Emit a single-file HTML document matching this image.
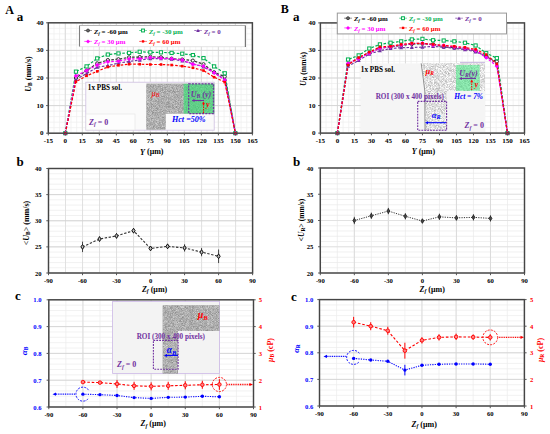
<!DOCTYPE html><html><head><meta charset="utf-8"><style>html,body{margin:0;padding:0;background:#fff;}svg{display:block;}</style></head><body><svg width="550" height="434" viewBox="0 0 550 434" font-family="Liberation Serif">
<defs>
<filter id="nzA" x="0" y="0" width="100%" height="100%" filterUnits="objectBoundingBox" color-interpolation-filters="sRGB">
<feTurbulence type="fractalNoise" baseFrequency="2.2" numOctaves="2" seed="3" result="n"/>
<feColorMatrix in="n" type="matrix" values="1 0 0 0 0  1 0 0 0 0  1 0 0 0 0  0 0 0 0 1" result="g"/>
<feComponentTransfer in="g" result="c"><feFuncR type="linear" slope="0.45" intercept="0.46"/><feFuncG type="linear" slope="0.45" intercept="0.46"/><feFuncB type="linear" slope="0.45" intercept="0.46"/></feComponentTransfer>
<feComposite in="c" in2="SourceAlpha" operator="in"/>
</filter>
<filter id="nzB" x="0" y="0" width="100%" height="100%" filterUnits="objectBoundingBox" color-interpolation-filters="sRGB">
<feTurbulence type="fractalNoise" baseFrequency="1.6" numOctaves="2" seed="5" result="n"/>
<feColorMatrix in="n" type="matrix" values="1 0 0 0 0  1 0 0 0 0  1 0 0 0 0  0 0 0 0 1" result="g"/>
<feComponentTransfer in="g" result="c"><feFuncR type="linear" slope="0.6" intercept="0.58"/><feFuncG type="linear" slope="0.6" intercept="0.58"/><feFuncB type="linear" slope="0.6" intercept="0.58"/></feComponentTransfer>
<feComposite in="c" in2="SourceAlpha" operator="in"/>
</filter>
</defs>
<rect width="550" height="434" fill="#fff"/>
<line x1="48.30" y1="22.80" x2="48.30" y2="133.20" stroke="#eeeeee" stroke-width="0.7"/>
<line x1="53.97" y1="22.80" x2="53.97" y2="133.20" stroke="#eeeeee" stroke-width="0.7"/>
<line x1="59.64" y1="22.80" x2="59.64" y2="133.20" stroke="#eeeeee" stroke-width="0.7"/>
<line x1="65.31" y1="22.80" x2="65.31" y2="133.20" stroke="#eeeeee" stroke-width="0.7"/>
<line x1="70.98" y1="22.80" x2="70.98" y2="133.20" stroke="#eeeeee" stroke-width="0.7"/>
<line x1="76.65" y1="22.80" x2="76.65" y2="133.20" stroke="#eeeeee" stroke-width="0.7"/>
<line x1="82.32" y1="22.80" x2="82.32" y2="133.20" stroke="#eeeeee" stroke-width="0.7"/>
<line x1="87.99" y1="22.80" x2="87.99" y2="133.20" stroke="#eeeeee" stroke-width="0.7"/>
<line x1="93.66" y1="22.80" x2="93.66" y2="133.20" stroke="#eeeeee" stroke-width="0.7"/>
<line x1="99.33" y1="22.80" x2="99.33" y2="133.20" stroke="#eeeeee" stroke-width="0.7"/>
<line x1="104.99" y1="22.80" x2="104.99" y2="133.20" stroke="#eeeeee" stroke-width="0.7"/>
<line x1="110.66" y1="22.80" x2="110.66" y2="133.20" stroke="#eeeeee" stroke-width="0.7"/>
<line x1="116.33" y1="22.80" x2="116.33" y2="133.20" stroke="#eeeeee" stroke-width="0.7"/>
<line x1="122.00" y1="22.80" x2="122.00" y2="133.20" stroke="#eeeeee" stroke-width="0.7"/>
<line x1="127.67" y1="22.80" x2="127.67" y2="133.20" stroke="#eeeeee" stroke-width="0.7"/>
<line x1="133.34" y1="22.80" x2="133.34" y2="133.20" stroke="#eeeeee" stroke-width="0.7"/>
<line x1="139.01" y1="22.80" x2="139.01" y2="133.20" stroke="#eeeeee" stroke-width="0.7"/>
<line x1="144.68" y1="22.80" x2="144.68" y2="133.20" stroke="#eeeeee" stroke-width="0.7"/>
<line x1="150.35" y1="22.80" x2="150.35" y2="133.20" stroke="#eeeeee" stroke-width="0.7"/>
<line x1="156.02" y1="22.80" x2="156.02" y2="133.20" stroke="#eeeeee" stroke-width="0.7"/>
<line x1="161.69" y1="22.80" x2="161.69" y2="133.20" stroke="#eeeeee" stroke-width="0.7"/>
<line x1="167.36" y1="22.80" x2="167.36" y2="133.20" stroke="#eeeeee" stroke-width="0.7"/>
<line x1="173.03" y1="22.80" x2="173.03" y2="133.20" stroke="#eeeeee" stroke-width="0.7"/>
<line x1="178.70" y1="22.80" x2="178.70" y2="133.20" stroke="#eeeeee" stroke-width="0.7"/>
<line x1="184.37" y1="22.80" x2="184.37" y2="133.20" stroke="#eeeeee" stroke-width="0.7"/>
<line x1="190.04" y1="22.80" x2="190.04" y2="133.20" stroke="#eeeeee" stroke-width="0.7"/>
<line x1="195.71" y1="22.80" x2="195.71" y2="133.20" stroke="#eeeeee" stroke-width="0.7"/>
<line x1="201.38" y1="22.80" x2="201.38" y2="133.20" stroke="#eeeeee" stroke-width="0.7"/>
<line x1="207.04" y1="22.80" x2="207.04" y2="133.20" stroke="#eeeeee" stroke-width="0.7"/>
<line x1="212.71" y1="22.80" x2="212.71" y2="133.20" stroke="#eeeeee" stroke-width="0.7"/>
<line x1="218.38" y1="22.80" x2="218.38" y2="133.20" stroke="#eeeeee" stroke-width="0.7"/>
<line x1="224.05" y1="22.80" x2="224.05" y2="133.20" stroke="#eeeeee" stroke-width="0.7"/>
<line x1="229.72" y1="22.80" x2="229.72" y2="133.20" stroke="#eeeeee" stroke-width="0.7"/>
<line x1="235.39" y1="22.80" x2="235.39" y2="133.20" stroke="#eeeeee" stroke-width="0.7"/>
<line x1="241.06" y1="22.80" x2="241.06" y2="133.20" stroke="#eeeeee" stroke-width="0.7"/>
<line x1="246.73" y1="22.80" x2="246.73" y2="133.20" stroke="#eeeeee" stroke-width="0.7"/>
<line x1="252.40" y1="22.80" x2="252.40" y2="133.20" stroke="#eeeeee" stroke-width="0.7"/>
<line x1="48.30" y1="133.20" x2="252.40" y2="133.20" stroke="#eeeeee" stroke-width="0.7"/>
<line x1="48.30" y1="127.68" x2="252.40" y2="127.68" stroke="#eeeeee" stroke-width="0.7"/>
<line x1="48.30" y1="122.16" x2="252.40" y2="122.16" stroke="#eeeeee" stroke-width="0.7"/>
<line x1="48.30" y1="116.64" x2="252.40" y2="116.64" stroke="#eeeeee" stroke-width="0.7"/>
<line x1="48.30" y1="111.12" x2="252.40" y2="111.12" stroke="#eeeeee" stroke-width="0.7"/>
<line x1="48.30" y1="105.60" x2="252.40" y2="105.60" stroke="#eeeeee" stroke-width="0.7"/>
<line x1="48.30" y1="100.08" x2="252.40" y2="100.08" stroke="#eeeeee" stroke-width="0.7"/>
<line x1="48.30" y1="94.56" x2="252.40" y2="94.56" stroke="#eeeeee" stroke-width="0.7"/>
<line x1="48.30" y1="89.04" x2="252.40" y2="89.04" stroke="#eeeeee" stroke-width="0.7"/>
<line x1="48.30" y1="83.52" x2="252.40" y2="83.52" stroke="#eeeeee" stroke-width="0.7"/>
<line x1="48.30" y1="78.00" x2="252.40" y2="78.00" stroke="#eeeeee" stroke-width="0.7"/>
<line x1="48.30" y1="72.48" x2="252.40" y2="72.48" stroke="#eeeeee" stroke-width="0.7"/>
<line x1="48.30" y1="66.96" x2="252.40" y2="66.96" stroke="#eeeeee" stroke-width="0.7"/>
<line x1="48.30" y1="61.44" x2="252.40" y2="61.44" stroke="#eeeeee" stroke-width="0.7"/>
<line x1="48.30" y1="55.92" x2="252.40" y2="55.92" stroke="#eeeeee" stroke-width="0.7"/>
<line x1="48.30" y1="50.40" x2="252.40" y2="50.40" stroke="#eeeeee" stroke-width="0.7"/>
<line x1="48.30" y1="44.88" x2="252.40" y2="44.88" stroke="#eeeeee" stroke-width="0.7"/>
<line x1="48.30" y1="39.36" x2="252.40" y2="39.36" stroke="#eeeeee" stroke-width="0.7"/>
<line x1="48.30" y1="33.84" x2="252.40" y2="33.84" stroke="#eeeeee" stroke-width="0.7"/>
<line x1="48.30" y1="28.32" x2="252.40" y2="28.32" stroke="#eeeeee" stroke-width="0.7"/>
<line x1="48.30" y1="22.80" x2="252.40" y2="22.80" stroke="#eeeeee" stroke-width="0.7"/>
<line x1="48.30" y1="22.80" x2="48.30" y2="133.20" stroke="#d8d8d8" stroke-width="0.9"/>
<line x1="65.31" y1="22.80" x2="65.31" y2="133.20" stroke="#d8d8d8" stroke-width="0.9"/>
<line x1="82.32" y1="22.80" x2="82.32" y2="133.20" stroke="#d8d8d8" stroke-width="0.9"/>
<line x1="99.33" y1="22.80" x2="99.33" y2="133.20" stroke="#d8d8d8" stroke-width="0.9"/>
<line x1="116.33" y1="22.80" x2="116.33" y2="133.20" stroke="#d8d8d8" stroke-width="0.9"/>
<line x1="133.34" y1="22.80" x2="133.34" y2="133.20" stroke="#d8d8d8" stroke-width="0.9"/>
<line x1="150.35" y1="22.80" x2="150.35" y2="133.20" stroke="#d8d8d8" stroke-width="0.9"/>
<line x1="167.36" y1="22.80" x2="167.36" y2="133.20" stroke="#d8d8d8" stroke-width="0.9"/>
<line x1="184.37" y1="22.80" x2="184.37" y2="133.20" stroke="#d8d8d8" stroke-width="0.9"/>
<line x1="201.38" y1="22.80" x2="201.38" y2="133.20" stroke="#d8d8d8" stroke-width="0.9"/>
<line x1="218.38" y1="22.80" x2="218.38" y2="133.20" stroke="#d8d8d8" stroke-width="0.9"/>
<line x1="235.39" y1="22.80" x2="235.39" y2="133.20" stroke="#d8d8d8" stroke-width="0.9"/>
<line x1="252.40" y1="22.80" x2="252.40" y2="133.20" stroke="#d8d8d8" stroke-width="0.9"/>
<line x1="48.30" y1="133.20" x2="252.40" y2="133.20" stroke="#d2d2d2" stroke-width="0.9"/>
<line x1="48.30" y1="105.60" x2="252.40" y2="105.60" stroke="#d2d2d2" stroke-width="0.9"/>
<line x1="48.30" y1="78.00" x2="252.40" y2="78.00" stroke="#d2d2d2" stroke-width="0.9"/>
<line x1="48.30" y1="50.40" x2="252.40" y2="50.40" stroke="#d2d2d2" stroke-width="0.9"/>
<line x1="48.30" y1="22.80" x2="252.40" y2="22.80" stroke="#d2d2d2" stroke-width="0.9"/>
<rect x="85.80" y="82.20" width="128.40" height="48.00" fill="#fafafa" stroke="#cdbfe0" stroke-width="0.8"/>
<rect x="86.00" y="114.00" width="49.00" height="16.00" fill="#fdfdfd" stroke="#e4e4e4" stroke-width="0.6"/>
<path d="M146.5,83.8 H214.2 V113.6 H165.5 V129.6 H146.5 Z" fill="#9a9a9a"/>
<g filter="url(#nzA)"><path d="M146.5,83.8 H214.2 V113.6 H165.5 V129.6 H146.5 Z" fill="#999"/></g>
<rect x="183.60" y="83.80" width="30.60" height="29.80" fill="#30e070" stroke="none" stroke-width="1" opacity="0.62"/>
<rect x="188.70" y="83.80" width="24.80" height="29.80" fill="none" stroke="#7030a0" stroke-width="1.2" stroke-dasharray="2,1.2"/>
<text x="87.8" y="88.4" font-size="7.2" fill="#000" text-anchor="start" font-weight="bold" font-style="normal" dominant-baseline="central">1x PBS sol.</text>
<text x="89" y="122" font-size="8" fill="#7030a0" text-anchor="start" font-weight="bold" dominant-baseline="central"><tspan font-style="italic">Z</tspan><tspan font-style="italic" font-size="5.60" dy="2.40">f</tspan><tspan dy="-2.40"> = 0</tspan></text>
<text x="155.3" y="93.2" font-size="8.5" fill="#ff0000" font-style="italic" font-weight="normal" dominant-baseline="central" text-anchor="middle">&#956;<tspan font-size="5.5" dy="2">B</tspan></text>
<text x="201" y="94" font-size="8" fill="#7030a0" font-style="italic" font-weight="bold" dominant-baseline="central" text-anchor="middle">U<tspan font-size="5.5" dy="2">B</tspan><tspan dy="-2"> (y)</tspan></text>
<line x1="204.00" y1="100.50" x2="193.00" y2="100.50" stroke="#7030a0" stroke-width="1.1"/>
<polygon points="191.5,100.5 194.5,99 194.5,102" fill="#7030a0"/>
<line x1="203.50" y1="113.00" x2="203.50" y2="103.00" stroke="#ff0000" stroke-width="1" stroke-dasharray="1.5,1"/>
<polygon points="203.5,101.5 202,104.3 205,104.3" fill="#ff0000"/>
<text x="208" y="104.5" font-size="7.5" fill="#ff0000" text-anchor="middle" font-weight="bold" font-style="italic" dominant-baseline="central">y</text>
<text x="188.8" y="119.8" font-size="8.1" fill="#0000ff" font-style="italic" font-weight="bold" dominant-baseline="central" text-anchor="middle">Hct =50%</text>
<polyline points="65.31,133.20 75.94,78.00 86.57,70.55 97.20,63.37 107.83,60.06 118.46,59.23 129.09,57.30 139.72,57.02 150.35,56.75 160.98,57.30 171.61,58.68 182.24,59.51 192.87,60.61 203.50,64.20 214.13,72.20 224.76,76.62 235.39,133.20" fill="none" stroke="#333" stroke-width="1.2" stroke-dasharray="2.6,1.6"/>
<polyline points="65.31,133.20 75.94,71.65 86.57,66.41 97.20,58.40 107.83,54.54 118.46,53.44 129.09,52.88 139.72,51.78 150.35,52.33 160.98,52.33 171.61,52.88 182.24,53.71 192.87,55.09 203.50,58.13 214.13,66.41 224.76,73.31 235.39,133.20" fill="none" stroke="#00b050" stroke-width="1.2" stroke-dasharray="2.6,1.6"/>
<polyline points="65.31,133.20 75.94,79.38 86.57,73.58 97.20,67.24 107.83,65.58 118.46,63.10 129.09,61.44 139.72,60.06 150.35,58.68 160.98,58.68 171.61,59.23 182.24,60.89 192.87,63.65 203.50,66.96 214.13,72.48 224.76,79.38 235.39,133.20" fill="none" stroke="#7030a0" stroke-width="1.2" stroke-dasharray="2.6,1.6"/>
<polyline points="65.31,133.20 75.94,76.07 86.57,70.55 97.20,65.03 107.83,61.72 118.46,61.16 129.09,58.96 139.72,58.68 150.35,57.58 160.98,58.13 171.61,58.68 182.24,60.06 192.87,64.20 203.50,66.13 214.13,72.76 224.76,79.93 235.39,133.20" fill="none" stroke="#ff00ff" stroke-width="1.2" stroke-dasharray="2.6,1.6"/>
<polyline points="65.31,133.20 75.94,81.59 86.57,75.79 97.20,71.38 107.83,66.96 118.46,65.30 129.09,64.20 139.72,64.20 150.35,64.48 160.98,64.48 171.61,65.03 182.24,66.13 192.87,67.79 203.50,70.55 214.13,77.17 224.76,82.14 235.39,133.20" fill="none" stroke="#ff0000" stroke-width="1.2" stroke-dasharray="2.6,1.6"/>
<circle cx="65.31" cy="133.20" r="1.6" fill="#fff" stroke="#333" stroke-width="1"/>
<circle cx="75.94" cy="78.00" r="1.6" fill="#fff" stroke="#333" stroke-width="1"/>
<circle cx="86.57" cy="70.55" r="1.6" fill="#fff" stroke="#333" stroke-width="1"/>
<circle cx="97.20" cy="63.37" r="1.6" fill="#fff" stroke="#333" stroke-width="1"/>
<circle cx="107.83" cy="60.06" r="1.6" fill="#fff" stroke="#333" stroke-width="1"/>
<circle cx="118.46" cy="59.23" r="1.6" fill="#fff" stroke="#333" stroke-width="1"/>
<circle cx="129.09" cy="57.30" r="1.6" fill="#fff" stroke="#333" stroke-width="1"/>
<circle cx="139.72" cy="57.02" r="1.6" fill="#fff" stroke="#333" stroke-width="1"/>
<circle cx="150.35" cy="56.75" r="1.6" fill="#fff" stroke="#333" stroke-width="1"/>
<circle cx="160.98" cy="57.30" r="1.6" fill="#fff" stroke="#333" stroke-width="1"/>
<circle cx="171.61" cy="58.68" r="1.6" fill="#fff" stroke="#333" stroke-width="1"/>
<circle cx="182.24" cy="59.51" r="1.6" fill="#fff" stroke="#333" stroke-width="1"/>
<circle cx="192.87" cy="60.61" r="1.6" fill="#fff" stroke="#333" stroke-width="1"/>
<circle cx="203.50" cy="64.20" r="1.6" fill="#fff" stroke="#333" stroke-width="1"/>
<circle cx="214.13" cy="72.20" r="1.6" fill="#fff" stroke="#333" stroke-width="1"/>
<circle cx="224.76" cy="76.62" r="1.6" fill="#fff" stroke="#333" stroke-width="1"/>
<circle cx="235.39" cy="133.20" r="1.6" fill="#fff" stroke="#333" stroke-width="1"/>
<rect x="63.71" y="131.60" width="3.2" height="3.2" fill="#fff" stroke="#00b050" stroke-width="1"/>
<rect x="74.34" y="70.05" width="3.2" height="3.2" fill="#fff" stroke="#00b050" stroke-width="1"/>
<rect x="84.97" y="64.81" width="3.2" height="3.2" fill="#fff" stroke="#00b050" stroke-width="1"/>
<rect x="95.60" y="56.80" width="3.2" height="3.2" fill="#fff" stroke="#00b050" stroke-width="1"/>
<rect x="106.23" y="52.94" width="3.2" height="3.2" fill="#fff" stroke="#00b050" stroke-width="1"/>
<rect x="116.86" y="51.84" width="3.2" height="3.2" fill="#fff" stroke="#00b050" stroke-width="1"/>
<rect x="127.49" y="51.28" width="3.2" height="3.2" fill="#fff" stroke="#00b050" stroke-width="1"/>
<rect x="138.12" y="50.18" width="3.2" height="3.2" fill="#fff" stroke="#00b050" stroke-width="1"/>
<rect x="148.75" y="50.73" width="3.2" height="3.2" fill="#fff" stroke="#00b050" stroke-width="1"/>
<rect x="159.38" y="50.73" width="3.2" height="3.2" fill="#fff" stroke="#00b050" stroke-width="1"/>
<rect x="170.01" y="51.28" width="3.2" height="3.2" fill="#fff" stroke="#00b050" stroke-width="1"/>
<rect x="180.64" y="52.11" width="3.2" height="3.2" fill="#fff" stroke="#00b050" stroke-width="1"/>
<rect x="191.27" y="53.49" width="3.2" height="3.2" fill="#fff" stroke="#00b050" stroke-width="1"/>
<rect x="201.90" y="56.53" width="3.2" height="3.2" fill="#fff" stroke="#00b050" stroke-width="1"/>
<rect x="212.53" y="64.81" width="3.2" height="3.2" fill="#fff" stroke="#00b050" stroke-width="1"/>
<rect x="223.16" y="71.71" width="3.2" height="3.2" fill="#fff" stroke="#00b050" stroke-width="1"/>
<rect x="233.79" y="131.60" width="3.2" height="3.2" fill="#fff" stroke="#00b050" stroke-width="1"/>
<polygon points="65.31,131.20 67.31,134.80 63.31,134.80" fill="#7030a0"/>
<polygon points="75.94,77.38 77.94,80.98 73.94,80.98" fill="#7030a0"/>
<polygon points="86.57,71.58 88.57,75.18 84.57,75.18" fill="#7030a0"/>
<polygon points="97.20,65.24 99.20,68.84 95.20,68.84" fill="#7030a0"/>
<polygon points="107.83,63.58 109.83,67.18 105.83,67.18" fill="#7030a0"/>
<polygon points="118.46,61.10 120.46,64.70 116.46,64.70" fill="#7030a0"/>
<polygon points="129.09,59.44 131.09,63.04 127.09,63.04" fill="#7030a0"/>
<polygon points="139.72,58.06 141.72,61.66 137.72,61.66" fill="#7030a0"/>
<polygon points="150.35,56.68 152.35,60.28 148.35,60.28" fill="#7030a0"/>
<polygon points="160.98,56.68 162.98,60.28 158.98,60.28" fill="#7030a0"/>
<polygon points="171.61,57.23 173.61,60.83 169.61,60.83" fill="#7030a0"/>
<polygon points="182.24,58.89 184.24,62.49 180.24,62.49" fill="#7030a0"/>
<polygon points="192.87,61.65 194.87,65.25 190.87,65.25" fill="#7030a0"/>
<polygon points="203.50,64.96 205.50,68.56 201.50,68.56" fill="#7030a0"/>
<polygon points="214.13,70.48 216.13,74.08 212.13,74.08" fill="#7030a0"/>
<polygon points="224.76,77.38 226.76,80.98 222.76,80.98" fill="#7030a0"/>
<polygon points="235.39,131.20 237.39,134.80 233.39,134.80" fill="#7030a0"/>
<polygon points="65.31,131.00 67.51,133.20 65.31,135.40 63.11,133.20" fill="#ff00ff"/>
<polygon points="75.94,73.87 78.14,76.07 75.94,78.27 73.74,76.07" fill="#ff00ff"/>
<polygon points="86.57,68.35 88.77,70.55 86.57,72.75 84.37,70.55" fill="#ff00ff"/>
<polygon points="97.20,62.83 99.40,65.03 97.20,67.23 95.00,65.03" fill="#ff00ff"/>
<polygon points="107.83,59.52 110.03,61.72 107.83,63.92 105.63,61.72" fill="#ff00ff"/>
<polygon points="118.46,58.96 120.66,61.16 118.46,63.36 116.26,61.16" fill="#ff00ff"/>
<polygon points="129.09,56.76 131.29,58.96 129.09,61.16 126.89,58.96" fill="#ff00ff"/>
<polygon points="139.72,56.48 141.92,58.68 139.72,60.88 137.52,58.68" fill="#ff00ff"/>
<polygon points="150.35,55.38 152.55,57.58 150.35,59.78 148.15,57.58" fill="#ff00ff"/>
<polygon points="160.98,55.93 163.18,58.13 160.98,60.33 158.78,58.13" fill="#ff00ff"/>
<polygon points="171.61,56.48 173.81,58.68 171.61,60.88 169.41,58.68" fill="#ff00ff"/>
<polygon points="182.24,57.86 184.44,60.06 182.24,62.26 180.04,60.06" fill="#ff00ff"/>
<polygon points="192.87,62.00 195.07,64.20 192.87,66.40 190.67,64.20" fill="#ff00ff"/>
<polygon points="203.50,63.93 205.70,66.13 203.50,68.33 201.30,66.13" fill="#ff00ff"/>
<polygon points="214.13,70.56 216.33,72.76 214.13,74.96 211.93,72.76" fill="#ff00ff"/>
<polygon points="224.76,77.73 226.96,79.93 224.76,82.13 222.56,79.93" fill="#ff00ff"/>
<polygon points="235.39,131.00 237.59,133.20 235.39,135.40 233.19,133.20" fill="#ff00ff"/>
<rect x="64.01" y="131.90" width="2.6" height="2.6" fill="#ff0000"/>
<rect x="74.64" y="80.29" width="2.6" height="2.6" fill="#ff0000"/>
<rect x="85.27" y="74.49" width="2.6" height="2.6" fill="#ff0000"/>
<rect x="95.90" y="70.08" width="2.6" height="2.6" fill="#ff0000"/>
<rect x="106.53" y="65.66" width="2.6" height="2.6" fill="#ff0000"/>
<rect x="117.16" y="64.00" width="2.6" height="2.6" fill="#ff0000"/>
<rect x="127.79" y="62.90" width="2.6" height="2.6" fill="#ff0000"/>
<rect x="138.42" y="62.90" width="2.6" height="2.6" fill="#ff0000"/>
<rect x="149.05" y="63.18" width="2.6" height="2.6" fill="#ff0000"/>
<rect x="159.68" y="63.18" width="2.6" height="2.6" fill="#ff0000"/>
<rect x="170.31" y="63.73" width="2.6" height="2.6" fill="#ff0000"/>
<rect x="180.94" y="64.83" width="2.6" height="2.6" fill="#ff0000"/>
<rect x="191.57" y="66.49" width="2.6" height="2.6" fill="#ff0000"/>
<rect x="202.20" y="69.25" width="2.6" height="2.6" fill="#ff0000"/>
<rect x="212.83" y="75.87" width="2.6" height="2.6" fill="#ff0000"/>
<rect x="223.46" y="80.84" width="2.6" height="2.6" fill="#ff0000"/>
<rect x="234.09" y="131.90" width="2.6" height="2.6" fill="#ff0000"/>
<rect x="48.30" y="22.80" width="204.10" height="110.40" fill="none" stroke="#454545" stroke-width="1.45"/>
<line x1="48.30" y1="133.20" x2="48.30" y2="135.40" stroke="#555" stroke-width="1"/>
<text x="48.3" y="141.1" font-size="7" fill="#000" text-anchor="middle" font-weight="bold" font-style="normal" dominant-baseline="central">-15</text>
<line x1="65.31" y1="133.20" x2="65.31" y2="135.40" stroke="#555" stroke-width="1"/>
<text x="65.30833333333334" y="141.1" font-size="7" fill="#000" text-anchor="middle" font-weight="bold" font-style="normal" dominant-baseline="central">0</text>
<line x1="82.32" y1="133.20" x2="82.32" y2="135.40" stroke="#555" stroke-width="1"/>
<text x="82.31666666666666" y="141.1" font-size="7" fill="#000" text-anchor="middle" font-weight="bold" font-style="normal" dominant-baseline="central">15</text>
<line x1="99.33" y1="133.20" x2="99.33" y2="135.40" stroke="#555" stroke-width="1"/>
<text x="99.325" y="141.1" font-size="7" fill="#000" text-anchor="middle" font-weight="bold" font-style="normal" dominant-baseline="central">30</text>
<line x1="116.33" y1="133.20" x2="116.33" y2="135.40" stroke="#555" stroke-width="1"/>
<text x="116.33333333333333" y="141.1" font-size="7" fill="#000" text-anchor="middle" font-weight="bold" font-style="normal" dominant-baseline="central">45</text>
<line x1="133.34" y1="133.20" x2="133.34" y2="135.40" stroke="#555" stroke-width="1"/>
<text x="133.3416666666667" y="141.1" font-size="7" fill="#000" text-anchor="middle" font-weight="bold" font-style="normal" dominant-baseline="central">60</text>
<line x1="150.35" y1="133.20" x2="150.35" y2="135.40" stroke="#555" stroke-width="1"/>
<text x="150.35000000000002" y="141.1" font-size="7" fill="#000" text-anchor="middle" font-weight="bold" font-style="normal" dominant-baseline="central">75</text>
<line x1="167.36" y1="133.20" x2="167.36" y2="135.40" stroke="#555" stroke-width="1"/>
<text x="167.35833333333335" y="141.1" font-size="7" fill="#000" text-anchor="middle" font-weight="bold" font-style="normal" dominant-baseline="central">90</text>
<line x1="184.37" y1="133.20" x2="184.37" y2="135.40" stroke="#555" stroke-width="1"/>
<text x="184.36666666666667" y="141.1" font-size="7" fill="#000" text-anchor="middle" font-weight="bold" font-style="normal" dominant-baseline="central">105</text>
<line x1="201.38" y1="133.20" x2="201.38" y2="135.40" stroke="#555" stroke-width="1"/>
<text x="201.375" y="141.1" font-size="7" fill="#000" text-anchor="middle" font-weight="bold" font-style="normal" dominant-baseline="central">120</text>
<line x1="218.38" y1="133.20" x2="218.38" y2="135.40" stroke="#555" stroke-width="1"/>
<text x="218.38333333333338" y="141.1" font-size="7" fill="#000" text-anchor="middle" font-weight="bold" font-style="normal" dominant-baseline="central">135</text>
<line x1="235.39" y1="133.20" x2="235.39" y2="135.40" stroke="#555" stroke-width="1"/>
<text x="235.39166666666665" y="141.1" font-size="7" fill="#000" text-anchor="middle" font-weight="bold" font-style="normal" dominant-baseline="central">150</text>
<line x1="252.40" y1="133.20" x2="252.40" y2="135.40" stroke="#555" stroke-width="1"/>
<text x="252.40000000000003" y="141.1" font-size="7" fill="#000" text-anchor="middle" font-weight="bold" font-style="normal" dominant-baseline="central">165</text>
<line x1="46.10" y1="133.20" x2="48.30" y2="133.20" stroke="#555" stroke-width="1"/>
<text x="43.4" y="133.2" font-size="7" fill="#000" text-anchor="end" font-weight="bold" font-style="normal" dominant-baseline="central">0</text>
<line x1="46.10" y1="105.60" x2="48.30" y2="105.60" stroke="#555" stroke-width="1"/>
<text x="43.4" y="105.6" font-size="7" fill="#000" text-anchor="end" font-weight="bold" font-style="normal" dominant-baseline="central">10</text>
<line x1="46.10" y1="78.00" x2="48.30" y2="78.00" stroke="#555" stroke-width="1"/>
<text x="43.4" y="78.0" font-size="7" fill="#000" text-anchor="end" font-weight="bold" font-style="normal" dominant-baseline="central">20</text>
<line x1="46.10" y1="50.40" x2="48.30" y2="50.40" stroke="#555" stroke-width="1"/>
<text x="43.4" y="50.39999999999999" font-size="7" fill="#000" text-anchor="end" font-weight="bold" font-style="normal" dominant-baseline="central">30</text>
<line x1="46.10" y1="22.80" x2="48.30" y2="22.80" stroke="#555" stroke-width="1"/>
<text x="43.4" y="22.799999999999997" font-size="7" fill="#000" text-anchor="end" font-weight="bold" font-style="normal" dominant-baseline="central">40</text>
<rect x="79.50" y="25.50" width="165.90" height="21.20" fill="#fff" stroke="none" stroke-width="0"/>
<line x1="79.50" y1="25.50" x2="245.40" y2="25.50" stroke="#aaa" stroke-width="0.9"/>
<line x1="79.50" y1="25.50" x2="79.50" y2="46.70" stroke="#808080" stroke-width="1.1"/>
<line x1="79.50" y1="46.70" x2="245.40" y2="46.70" stroke="#dcdcdc" stroke-width="0.8"/>
<line x1="245.40" y1="25.50" x2="245.40" y2="47.00" stroke="#777" stroke-width="1.2"/>
<line x1="84.50" y1="30.50" x2="91.50" y2="30.50" stroke="#333" stroke-width="1" stroke-dasharray="1.2,0.8"/>
<circle cx="88" cy="30.5" r="1.5" fill="#666" stroke="#333" stroke-width="0.8"/>
<text x="94" y="30.5" font-size="6.9" fill="#000" text-anchor="start" font-weight="bold" dominant-baseline="central"><tspan font-style="italic">Z</tspan><tspan font-style="italic" font-size="4.83" dy="2.07">f</tspan><tspan dy="-2.07"> = -60 &#956;m</tspan></text>
<line x1="139.50" y1="30.50" x2="146.50" y2="30.50" stroke="#00b050" stroke-width="1" stroke-dasharray="1.2,0.8"/>
<rect x="141.56" y="29.06" width="2.8800000000000003" height="2.8800000000000003" fill="#fff" stroke="#00b050" stroke-width="1"/>
<text x="149" y="30.5" font-size="6.9" fill="#00b050" text-anchor="start" font-weight="bold" dominant-baseline="central"><tspan font-style="italic">Z</tspan><tspan font-style="italic" font-size="4.83" dy="2.07">f</tspan><tspan dy="-2.07"> = -30 &#956;m</tspan></text>
<line x1="194.50" y1="30.50" x2="201.50" y2="30.50" stroke="#7030a0" stroke-width="1" stroke-dasharray="1.2,0.8"/>
<polygon points="198.00,28.70 199.80,31.94 196.20,31.94" fill="#7030a0"/>
<text x="204" y="30.5" font-size="6.9" fill="#7030a0" text-anchor="start" font-weight="bold" dominant-baseline="central"><tspan font-style="italic">Z</tspan><tspan font-style="italic" font-size="4.83" dy="2.07">f</tspan><tspan dy="-2.07"> = 0</tspan></text>
<line x1="84.50" y1="41.40" x2="91.50" y2="41.40" stroke="#ff00ff" stroke-width="1" stroke-dasharray="1.2,0.8"/>
<polygon points="88.00,39.42 89.98,41.40 88.00,43.38 86.02,41.40" fill="#ff00ff"/>
<text x="94" y="41.4" font-size="6.9" fill="#ff00ff" text-anchor="start" font-weight="bold" dominant-baseline="central"><tspan font-style="italic">Z</tspan><tspan font-style="italic" font-size="4.83" dy="2.07">f</tspan><tspan dy="-2.07"> = 30 &#956;m</tspan></text>
<line x1="139.50" y1="41.40" x2="146.50" y2="41.40" stroke="#ff0000" stroke-width="1" stroke-dasharray="1.2,0.8"/>
<rect x="141.83" y="40.23" width="2.3400000000000003" height="2.3400000000000003" fill="#ff0000"/>
<text x="149" y="41.4" font-size="6.9" fill="#ff0000" text-anchor="start" font-weight="bold" dominant-baseline="central"><tspan font-style="italic">Z</tspan><tspan font-style="italic" font-size="4.83" dy="2.07">f</tspan><tspan dy="-2.07"> = 60 &#956;m</tspan></text>
<text x="9.5" y="9.5" font-size="12" fill="#000" text-anchor="middle" font-weight="bold" font-style="normal" dominant-baseline="central">A</text>
<text x="20" y="16.5" font-size="13" fill="#000" text-anchor="middle" font-weight="bold" font-style="normal" dominant-baseline="central">a</text>
<text x="28.3" y="74" font-size="8" font-weight="bold" text-anchor="middle" dominant-baseline="central" transform="rotate(-90 28.3 74)"><tspan font-style="italic">U</tspan><tspan font-size="5.5" dy="2">B</tspan><tspan dy="-2"> (mm/s)</tspan></text>
<text x="151.8" y="151.5" font-size="8" font-weight="bold" text-anchor="middle" dominant-baseline="central"><tspan font-style="italic">Y</tspan> (&#956;m)</text>
<line x1="48.50" y1="168.50" x2="48.50" y2="273.00" stroke="#ebebeb" stroke-width="0.7"/>
<line x1="65.51" y1="168.50" x2="65.51" y2="273.00" stroke="#ebebeb" stroke-width="0.7"/>
<line x1="82.52" y1="168.50" x2="82.52" y2="273.00" stroke="#ebebeb" stroke-width="0.7"/>
<line x1="99.53" y1="168.50" x2="99.53" y2="273.00" stroke="#ebebeb" stroke-width="0.7"/>
<line x1="116.53" y1="168.50" x2="116.53" y2="273.00" stroke="#ebebeb" stroke-width="0.7"/>
<line x1="133.54" y1="168.50" x2="133.54" y2="273.00" stroke="#ebebeb" stroke-width="0.7"/>
<line x1="150.55" y1="168.50" x2="150.55" y2="273.00" stroke="#ebebeb" stroke-width="0.7"/>
<line x1="167.56" y1="168.50" x2="167.56" y2="273.00" stroke="#ebebeb" stroke-width="0.7"/>
<line x1="184.57" y1="168.50" x2="184.57" y2="273.00" stroke="#ebebeb" stroke-width="0.7"/>
<line x1="201.57" y1="168.50" x2="201.57" y2="273.00" stroke="#ebebeb" stroke-width="0.7"/>
<line x1="218.58" y1="168.50" x2="218.58" y2="273.00" stroke="#ebebeb" stroke-width="0.7"/>
<line x1="235.59" y1="168.50" x2="235.59" y2="273.00" stroke="#ebebeb" stroke-width="0.7"/>
<line x1="252.60" y1="168.50" x2="252.60" y2="273.00" stroke="#ebebeb" stroke-width="0.7"/>
<line x1="48.50" y1="273.00" x2="252.60" y2="273.00" stroke="#ebebeb" stroke-width="0.7"/>
<line x1="48.50" y1="267.77" x2="252.60" y2="267.77" stroke="#ebebeb" stroke-width="0.7"/>
<line x1="48.50" y1="262.55" x2="252.60" y2="262.55" stroke="#ebebeb" stroke-width="0.7"/>
<line x1="48.50" y1="257.32" x2="252.60" y2="257.32" stroke="#ebebeb" stroke-width="0.7"/>
<line x1="48.50" y1="252.10" x2="252.60" y2="252.10" stroke="#ebebeb" stroke-width="0.7"/>
<line x1="48.50" y1="246.88" x2="252.60" y2="246.88" stroke="#ebebeb" stroke-width="0.7"/>
<line x1="48.50" y1="241.65" x2="252.60" y2="241.65" stroke="#ebebeb" stroke-width="0.7"/>
<line x1="48.50" y1="236.43" x2="252.60" y2="236.43" stroke="#ebebeb" stroke-width="0.7"/>
<line x1="48.50" y1="231.20" x2="252.60" y2="231.20" stroke="#ebebeb" stroke-width="0.7"/>
<line x1="48.50" y1="225.97" x2="252.60" y2="225.97" stroke="#ebebeb" stroke-width="0.7"/>
<line x1="48.50" y1="220.75" x2="252.60" y2="220.75" stroke="#ebebeb" stroke-width="0.7"/>
<line x1="48.50" y1="215.53" x2="252.60" y2="215.53" stroke="#ebebeb" stroke-width="0.7"/>
<line x1="48.50" y1="210.30" x2="252.60" y2="210.30" stroke="#ebebeb" stroke-width="0.7"/>
<line x1="48.50" y1="205.07" x2="252.60" y2="205.07" stroke="#ebebeb" stroke-width="0.7"/>
<line x1="48.50" y1="199.85" x2="252.60" y2="199.85" stroke="#ebebeb" stroke-width="0.7"/>
<line x1="48.50" y1="194.62" x2="252.60" y2="194.62" stroke="#ebebeb" stroke-width="0.7"/>
<line x1="48.50" y1="189.40" x2="252.60" y2="189.40" stroke="#ebebeb" stroke-width="0.7"/>
<line x1="48.50" y1="184.18" x2="252.60" y2="184.18" stroke="#ebebeb" stroke-width="0.7"/>
<line x1="48.50" y1="178.95" x2="252.60" y2="178.95" stroke="#ebebeb" stroke-width="0.7"/>
<line x1="48.50" y1="173.73" x2="252.60" y2="173.73" stroke="#ebebeb" stroke-width="0.7"/>
<line x1="48.50" y1="168.50" x2="252.60" y2="168.50" stroke="#ebebeb" stroke-width="0.7"/>
<line x1="48.50" y1="168.50" x2="48.50" y2="273.00" stroke="#dfdfdf" stroke-width="0.9"/>
<line x1="65.51" y1="168.50" x2="65.51" y2="273.00" stroke="#dfdfdf" stroke-width="0.9"/>
<line x1="82.52" y1="168.50" x2="82.52" y2="273.00" stroke="#dfdfdf" stroke-width="0.9"/>
<line x1="99.53" y1="168.50" x2="99.53" y2="273.00" stroke="#dfdfdf" stroke-width="0.9"/>
<line x1="116.53" y1="168.50" x2="116.53" y2="273.00" stroke="#dfdfdf" stroke-width="0.9"/>
<line x1="133.54" y1="168.50" x2="133.54" y2="273.00" stroke="#dfdfdf" stroke-width="0.9"/>
<line x1="150.55" y1="168.50" x2="150.55" y2="273.00" stroke="#dfdfdf" stroke-width="0.9"/>
<line x1="167.56" y1="168.50" x2="167.56" y2="273.00" stroke="#dfdfdf" stroke-width="0.9"/>
<line x1="184.57" y1="168.50" x2="184.57" y2="273.00" stroke="#dfdfdf" stroke-width="0.9"/>
<line x1="201.57" y1="168.50" x2="201.57" y2="273.00" stroke="#dfdfdf" stroke-width="0.9"/>
<line x1="218.58" y1="168.50" x2="218.58" y2="273.00" stroke="#dfdfdf" stroke-width="0.9"/>
<line x1="235.59" y1="168.50" x2="235.59" y2="273.00" stroke="#dfdfdf" stroke-width="0.9"/>
<line x1="252.60" y1="168.50" x2="252.60" y2="273.00" stroke="#dfdfdf" stroke-width="0.9"/>
<line x1="48.50" y1="273.00" x2="252.60" y2="273.00" stroke="#d0d0d0" stroke-width="0.9"/>
<line x1="48.50" y1="246.88" x2="252.60" y2="246.88" stroke="#d0d0d0" stroke-width="0.9"/>
<line x1="48.50" y1="220.75" x2="252.60" y2="220.75" stroke="#d0d0d0" stroke-width="0.9"/>
<line x1="48.50" y1="194.62" x2="252.60" y2="194.62" stroke="#d0d0d0" stroke-width="0.9"/>
<line x1="48.50" y1="168.50" x2="252.60" y2="168.50" stroke="#d0d0d0" stroke-width="0.9"/>
<polyline points="82.52,246.88 99.53,239.04 116.53,235.90 133.54,230.68 150.55,248.44 167.56,246.35 184.57,247.92 201.57,252.10 218.58,256.28" fill="none" stroke="#333" stroke-width="1.1" stroke-dasharray="2.4,1.6"/>
<line x1="82.52" y1="252.10" x2="82.52" y2="241.65" stroke="#333" stroke-width="0.9"/>
<polygon points="82.52,244.47 84.12,246.88 82.52,249.28 80.92,246.88" fill="#bbb" stroke="#111" stroke-width="1"/>
<line x1="99.53" y1="241.65" x2="99.53" y2="236.43" stroke="#333" stroke-width="0.9"/>
<polygon points="99.53,236.64 101.12,239.04 99.53,241.44 97.93,239.04" fill="#bbb" stroke="#111" stroke-width="1"/>
<line x1="116.53" y1="238.51" x2="116.53" y2="233.29" stroke="#333" stroke-width="0.9"/>
<polygon points="116.53,233.50 118.13,235.90 116.53,238.30 114.93,235.90" fill="#bbb" stroke="#111" stroke-width="1"/>
<line x1="133.54" y1="233.29" x2="133.54" y2="228.06" stroke="#333" stroke-width="0.9"/>
<polygon points="133.54,228.28 135.14,230.68 133.54,233.08 131.94,230.68" fill="#bbb" stroke="#111" stroke-width="1"/>
<line x1="150.55" y1="250.53" x2="150.55" y2="246.35" stroke="#333" stroke-width="0.9"/>
<polygon points="150.55,246.04 152.15,248.44 150.55,250.84 148.95,248.44" fill="#bbb" stroke="#111" stroke-width="1"/>
<line x1="167.56" y1="248.97" x2="167.56" y2="243.74" stroke="#333" stroke-width="0.9"/>
<polygon points="167.56,243.95 169.16,246.35 167.56,248.75 165.96,246.35" fill="#bbb" stroke="#111" stroke-width="1"/>
<line x1="184.57" y1="251.58" x2="184.57" y2="244.26" stroke="#333" stroke-width="0.9"/>
<polygon points="184.57,245.52 186.17,247.92 184.57,250.32 182.97,247.92" fill="#bbb" stroke="#111" stroke-width="1"/>
<line x1="201.57" y1="256.28" x2="201.57" y2="247.92" stroke="#333" stroke-width="0.9"/>
<polygon points="201.57,249.70 203.17,252.10 201.57,254.50 199.97,252.10" fill="#bbb" stroke="#111" stroke-width="1"/>
<line x1="218.58" y1="263.07" x2="218.58" y2="249.49" stroke="#333" stroke-width="0.9"/>
<polygon points="218.58,253.88 220.18,256.28 218.58,258.68 216.98,256.28" fill="#bbb" stroke="#111" stroke-width="1"/>
<rect x="48.50" y="168.50" width="204.10" height="104.50" fill="none" stroke="#454545" stroke-width="1.45"/>
<line x1="48.50" y1="273.00" x2="48.50" y2="275.20" stroke="#555" stroke-width="1"/>
<text x="48.5" y="280.1" font-size="6.6" fill="#000" text-anchor="middle" font-weight="bold" font-style="normal" dominant-baseline="central">-90</text>
<line x1="82.52" y1="273.00" x2="82.52" y2="275.20" stroke="#555" stroke-width="1"/>
<text x="82.51666666666667" y="280.1" font-size="6.6" fill="#000" text-anchor="middle" font-weight="bold" font-style="normal" dominant-baseline="central">-60</text>
<line x1="116.53" y1="273.00" x2="116.53" y2="275.20" stroke="#555" stroke-width="1"/>
<text x="116.53333333333333" y="280.1" font-size="6.6" fill="#000" text-anchor="middle" font-weight="bold" font-style="normal" dominant-baseline="central">-30</text>
<line x1="150.55" y1="273.00" x2="150.55" y2="275.20" stroke="#555" stroke-width="1"/>
<text x="150.55" y="280.1" font-size="6.6" fill="#000" text-anchor="middle" font-weight="bold" font-style="normal" dominant-baseline="central">0</text>
<line x1="184.57" y1="273.00" x2="184.57" y2="275.20" stroke="#555" stroke-width="1"/>
<text x="184.56666666666666" y="280.1" font-size="6.6" fill="#000" text-anchor="middle" font-weight="bold" font-style="normal" dominant-baseline="central">30</text>
<line x1="218.58" y1="273.00" x2="218.58" y2="275.20" stroke="#555" stroke-width="1"/>
<text x="218.58333333333334" y="280.1" font-size="6.6" fill="#000" text-anchor="middle" font-weight="bold" font-style="normal" dominant-baseline="central">60</text>
<line x1="252.60" y1="273.00" x2="252.60" y2="275.20" stroke="#555" stroke-width="1"/>
<text x="252.6" y="280.1" font-size="6.6" fill="#000" text-anchor="middle" font-weight="bold" font-style="normal" dominant-baseline="central">90</text>
<line x1="46.30" y1="273.00" x2="48.50" y2="273.00" stroke="#555" stroke-width="1"/>
<text x="41.5" y="273.0" font-size="6.6" fill="#000" text-anchor="end" font-weight="bold" font-style="normal" dominant-baseline="central">20</text>
<line x1="46.30" y1="246.88" x2="48.50" y2="246.88" stroke="#555" stroke-width="1"/>
<text x="41.5" y="246.875" font-size="6.6" fill="#000" text-anchor="end" font-weight="bold" font-style="normal" dominant-baseline="central">25</text>
<line x1="46.30" y1="220.75" x2="48.50" y2="220.75" stroke="#555" stroke-width="1"/>
<text x="41.5" y="220.75" font-size="6.6" fill="#000" text-anchor="end" font-weight="bold" font-style="normal" dominant-baseline="central">30</text>
<line x1="46.30" y1="194.62" x2="48.50" y2="194.62" stroke="#555" stroke-width="1"/>
<text x="41.5" y="194.625" font-size="6.6" fill="#000" text-anchor="end" font-weight="bold" font-style="normal" dominant-baseline="central">35</text>
<line x1="46.30" y1="168.50" x2="48.50" y2="168.50" stroke="#555" stroke-width="1"/>
<text x="41.5" y="168.5" font-size="6.6" fill="#000" text-anchor="end" font-weight="bold" font-style="normal" dominant-baseline="central">40</text>
<text x="20" y="161" font-size="13" fill="#000" text-anchor="middle" font-weight="bold" font-style="normal" dominant-baseline="central">b</text>
<text x="26.4" y="223" font-size="8" font-weight="bold" text-anchor="middle" dominant-baseline="central" transform="rotate(-90 26.4 223)">&lt;<tspan font-style="italic">U</tspan><tspan font-size="5.5" dy="2">B</tspan><tspan dy="-2">&gt; (mm/s)</tspan></text>
<text x="154.6" y="288.6" font-size="8" fill="#000" text-anchor="middle" font-weight="bold" dominant-baseline="central"><tspan font-style="italic">Z</tspan><tspan font-style="italic" font-size="5.60" dy="2.40">f</tspan><tspan dy="-2.40"> (&#956;m)</tspan></text>
<line x1="48.80" y1="299.80" x2="48.80" y2="407.00" stroke="#ececec" stroke-width="0.7"/>
<line x1="65.86" y1="299.80" x2="65.86" y2="407.00" stroke="#ececec" stroke-width="0.7"/>
<line x1="82.92" y1="299.80" x2="82.92" y2="407.00" stroke="#ececec" stroke-width="0.7"/>
<line x1="99.97" y1="299.80" x2="99.97" y2="407.00" stroke="#ececec" stroke-width="0.7"/>
<line x1="117.03" y1="299.80" x2="117.03" y2="407.00" stroke="#ececec" stroke-width="0.7"/>
<line x1="134.09" y1="299.80" x2="134.09" y2="407.00" stroke="#ececec" stroke-width="0.7"/>
<line x1="151.15" y1="299.80" x2="151.15" y2="407.00" stroke="#ececec" stroke-width="0.7"/>
<line x1="168.21" y1="299.80" x2="168.21" y2="407.00" stroke="#ececec" stroke-width="0.7"/>
<line x1="185.27" y1="299.80" x2="185.27" y2="407.00" stroke="#ececec" stroke-width="0.7"/>
<line x1="202.32" y1="299.80" x2="202.32" y2="407.00" stroke="#ececec" stroke-width="0.7"/>
<line x1="219.38" y1="299.80" x2="219.38" y2="407.00" stroke="#ececec" stroke-width="0.7"/>
<line x1="236.44" y1="299.80" x2="236.44" y2="407.00" stroke="#ececec" stroke-width="0.7"/>
<line x1="253.50" y1="299.80" x2="253.50" y2="407.00" stroke="#ececec" stroke-width="0.7"/>
<line x1="48.80" y1="407.00" x2="253.50" y2="407.00" stroke="#ececec" stroke-width="0.7"/>
<line x1="48.80" y1="401.64" x2="253.50" y2="401.64" stroke="#ececec" stroke-width="0.7"/>
<line x1="48.80" y1="396.28" x2="253.50" y2="396.28" stroke="#ececec" stroke-width="0.7"/>
<line x1="48.80" y1="390.92" x2="253.50" y2="390.92" stroke="#ececec" stroke-width="0.7"/>
<line x1="48.80" y1="385.56" x2="253.50" y2="385.56" stroke="#ececec" stroke-width="0.7"/>
<line x1="48.80" y1="380.20" x2="253.50" y2="380.20" stroke="#ececec" stroke-width="0.7"/>
<line x1="48.80" y1="374.84" x2="253.50" y2="374.84" stroke="#ececec" stroke-width="0.7"/>
<line x1="48.80" y1="369.48" x2="253.50" y2="369.48" stroke="#ececec" stroke-width="0.7"/>
<line x1="48.80" y1="364.12" x2="253.50" y2="364.12" stroke="#ececec" stroke-width="0.7"/>
<line x1="48.80" y1="358.76" x2="253.50" y2="358.76" stroke="#ececec" stroke-width="0.7"/>
<line x1="48.80" y1="353.40" x2="253.50" y2="353.40" stroke="#ececec" stroke-width="0.7"/>
<line x1="48.80" y1="348.04" x2="253.50" y2="348.04" stroke="#ececec" stroke-width="0.7"/>
<line x1="48.80" y1="342.68" x2="253.50" y2="342.68" stroke="#ececec" stroke-width="0.7"/>
<line x1="48.80" y1="337.32" x2="253.50" y2="337.32" stroke="#ececec" stroke-width="0.7"/>
<line x1="48.80" y1="331.96" x2="253.50" y2="331.96" stroke="#ececec" stroke-width="0.7"/>
<line x1="48.80" y1="326.60" x2="253.50" y2="326.60" stroke="#ececec" stroke-width="0.7"/>
<line x1="48.80" y1="321.24" x2="253.50" y2="321.24" stroke="#ececec" stroke-width="0.7"/>
<line x1="48.80" y1="315.88" x2="253.50" y2="315.88" stroke="#ececec" stroke-width="0.7"/>
<line x1="48.80" y1="310.52" x2="253.50" y2="310.52" stroke="#ececec" stroke-width="0.7"/>
<line x1="48.80" y1="305.16" x2="253.50" y2="305.16" stroke="#ececec" stroke-width="0.7"/>
<line x1="48.80" y1="299.80" x2="253.50" y2="299.80" stroke="#ececec" stroke-width="0.7"/>
<line x1="48.80" y1="299.80" x2="48.80" y2="407.00" stroke="#d9d9d9" stroke-width="0.9"/>
<line x1="82.92" y1="299.80" x2="82.92" y2="407.00" stroke="#d9d9d9" stroke-width="0.9"/>
<line x1="117.03" y1="299.80" x2="117.03" y2="407.00" stroke="#d9d9d9" stroke-width="0.9"/>
<line x1="151.15" y1="299.80" x2="151.15" y2="407.00" stroke="#d9d9d9" stroke-width="0.9"/>
<line x1="185.27" y1="299.80" x2="185.27" y2="407.00" stroke="#d9d9d9" stroke-width="0.9"/>
<line x1="219.38" y1="299.80" x2="219.38" y2="407.00" stroke="#d9d9d9" stroke-width="0.9"/>
<line x1="253.50" y1="299.80" x2="253.50" y2="407.00" stroke="#d9d9d9" stroke-width="0.9"/>
<line x1="48.80" y1="407.00" x2="253.50" y2="407.00" stroke="#d2d2d2" stroke-width="0.9"/>
<line x1="48.80" y1="380.20" x2="253.50" y2="380.20" stroke="#d2d2d2" stroke-width="0.9"/>
<line x1="48.80" y1="353.40" x2="253.50" y2="353.40" stroke="#d2d2d2" stroke-width="0.9"/>
<line x1="48.80" y1="326.60" x2="253.50" y2="326.60" stroke="#d2d2d2" stroke-width="0.9"/>
<line x1="48.80" y1="299.80" x2="253.50" y2="299.80" stroke="#d2d2d2" stroke-width="0.9"/>
<rect x="112.60" y="301.50" width="106.90" height="72.00" fill="#f3f3f3" stroke="#cdb8e6" stroke-width="0.8"/>
<path d="M162.8,305.5 H219.3 V331 H178 V373.4 H162.8 Z" fill="#8e8e8e"/>
<g filter="url(#nzA)"><path d="M162.8,305.5 H219.3 V331 H178 V373.4 H162.8 Z" fill="#999"/></g>
<rect x="153.40" y="340.40" width="24.70" height="28.80" fill="none" stroke="#7030a0" stroke-width="1.1" stroke-dasharray="1.8,1.1"/>
<text x="202.7" y="314.7" font-size="10" fill="#ff0000" font-style="italic" font-weight="bold" dominant-baseline="central" text-anchor="middle">&#956;<tspan font-size="6.5" dy="2.3">B</tspan></text>
<text x="170.8" y="337.2" font-size="7.2" fill="#7030a0" text-anchor="middle" font-weight="bold" font-style="normal" dominant-baseline="central">ROI (300 x 400 pixels)</text>
<text x="171.5" y="349.5" font-size="9.5" fill="#0000ff" font-style="italic" font-weight="bold" dominant-baseline="central" text-anchor="middle">&#945;<tspan font-size="6.5" dy="2.3">B</tspan></text>
<line x1="178.00" y1="355.40" x2="166.00" y2="355.40" stroke="#0000ff" stroke-width="1.1"/>
<polygon points="164,355.4 167,353.9 167,356.9" fill="#0000ff"/>
<text x="117" y="364.4" font-size="8" fill="#7030a0" text-anchor="start" font-weight="bold" dominant-baseline="central"><tspan font-style="italic">Z</tspan><tspan font-style="italic" font-size="5.60" dy="2.40">f</tspan><tspan dy="-2.40"> = 0</tspan></text>
<polyline points="82.92,382.08 99.97,382.61 117.03,383.95 134.09,385.83 151.15,386.36 168.21,385.83 185.27,385.29 202.32,384.76 219.38,384.49" fill="none" stroke="#ff0000" stroke-width="1.1" stroke-dasharray="2.6,1.8"/>
<polyline points="82.92,394.14 99.97,394.67 117.03,395.48 134.09,397.62 151.15,398.42 168.21,397.35 185.27,397.08 202.32,396.28 219.38,396.82" fill="none" stroke="#0000ff" stroke-width="1.1" stroke-dasharray="1.2,1.2"/>
<circle cx="82.92" cy="382.08" r="1.8" fill="#ff8080" stroke="#ff0000" stroke-width="0.9"/>
<circle cx="99.97" cy="382.61" r="1.8" fill="#ff8080" stroke="#ff0000" stroke-width="0.9"/>
<line x1="117.03" y1="387.97" x2="117.03" y2="379.93" stroke="#ff0000" stroke-width="1"/>
<circle cx="117.03" cy="383.95" r="1.8" fill="#ff8080" stroke="#ff0000" stroke-width="0.9"/>
<line x1="134.09" y1="389.85" x2="134.09" y2="381.81" stroke="#ff0000" stroke-width="1"/>
<circle cx="134.09" cy="385.83" r="1.8" fill="#ff8080" stroke="#ff0000" stroke-width="0.9"/>
<line x1="151.15" y1="390.38" x2="151.15" y2="382.34" stroke="#ff0000" stroke-width="1"/>
<circle cx="151.15" cy="386.36" r="1.8" fill="#ff8080" stroke="#ff0000" stroke-width="0.9"/>
<line x1="168.21" y1="389.85" x2="168.21" y2="381.81" stroke="#ff0000" stroke-width="1"/>
<circle cx="168.21" cy="385.83" r="1.8" fill="#ff8080" stroke="#ff0000" stroke-width="0.9"/>
<line x1="185.27" y1="389.31" x2="185.27" y2="381.27" stroke="#ff0000" stroke-width="1"/>
<circle cx="185.27" cy="385.29" r="1.8" fill="#ff8080" stroke="#ff0000" stroke-width="0.9"/>
<line x1="202.32" y1="388.78" x2="202.32" y2="380.74" stroke="#ff0000" stroke-width="1"/>
<circle cx="202.32" cy="384.76" r="1.8" fill="#ff8080" stroke="#ff0000" stroke-width="0.9"/>
<line x1="219.38" y1="389.85" x2="219.38" y2="379.13" stroke="#ff0000" stroke-width="1"/>
<circle cx="219.38" cy="384.49" r="1.8" fill="#ff8080" stroke="#ff0000" stroke-width="0.9"/>
<circle cx="82.92" cy="394.14" r="1.7" fill="#0000ff"/>
<circle cx="99.97" cy="394.67" r="1.7" fill="#0000ff"/>
<circle cx="117.03" cy="395.48" r="1.7" fill="#0000ff"/>
<circle cx="134.09" cy="397.62" r="1.7" fill="#0000ff"/>
<circle cx="151.15" cy="398.42" r="1.7" fill="#0000ff"/>
<circle cx="168.21" cy="397.35" r="1.7" fill="#0000ff"/>
<circle cx="185.27" cy="397.08" r="1.7" fill="#0000ff"/>
<circle cx="202.32" cy="396.28" r="1.7" fill="#0000ff"/>
<circle cx="219.38" cy="396.82" r="1.7" fill="#0000ff"/>
<path d="M88.65,390.12 A7.0,7.0 0 1 0 88.65,398.15" fill="none" stroke="#0000ff" stroke-width="0.9" stroke-dasharray="2,1.2"/>
<circle cx="219.38" cy="384.49" r="7.1" fill="none" stroke="#ff0000" stroke-width="0.9" stroke-dasharray="2,1.2"/>
<line x1="74.96" y1="394.14" x2="55.50" y2="394.14" stroke="#0000ff" stroke-width="1.3" stroke-dasharray="1,0.8"/>
<polygon points="52.5,394.14 56,392.54 56,395.74" fill="#0000ff"/>
<line x1="227.34" y1="384.49" x2="250.00" y2="384.49" stroke="#ff0000" stroke-width="1.3" stroke-dasharray="1,0.8"/>
<polygon points="253,384.49 249.5,382.89 249.5,386.09" fill="#ff0000"/>
<rect x="48.80" y="299.80" width="204.70" height="107.20" fill="none" stroke="#454545" stroke-width="1.45"/>
<line x1="48.80" y1="407.00" x2="48.80" y2="409.20" stroke="#555" stroke-width="1"/>
<text x="48.8" y="414.7" font-size="6.6" fill="#000" text-anchor="middle" font-weight="bold" font-style="normal" dominant-baseline="central">-90</text>
<line x1="82.92" y1="407.00" x2="82.92" y2="409.20" stroke="#555" stroke-width="1"/>
<text x="82.91666666666666" y="414.7" font-size="6.6" fill="#000" text-anchor="middle" font-weight="bold" font-style="normal" dominant-baseline="central">-60</text>
<line x1="117.03" y1="407.00" x2="117.03" y2="409.20" stroke="#555" stroke-width="1"/>
<text x="117.03333333333332" y="414.7" font-size="6.6" fill="#000" text-anchor="middle" font-weight="bold" font-style="normal" dominant-baseline="central">-30</text>
<line x1="151.15" y1="407.00" x2="151.15" y2="409.20" stroke="#555" stroke-width="1"/>
<text x="151.14999999999998" y="414.7" font-size="6.6" fill="#000" text-anchor="middle" font-weight="bold" font-style="normal" dominant-baseline="central">0</text>
<line x1="185.27" y1="407.00" x2="185.27" y2="409.20" stroke="#555" stroke-width="1"/>
<text x="185.26666666666665" y="414.7" font-size="6.6" fill="#000" text-anchor="middle" font-weight="bold" font-style="normal" dominant-baseline="central">30</text>
<line x1="219.38" y1="407.00" x2="219.38" y2="409.20" stroke="#555" stroke-width="1"/>
<text x="219.38333333333333" y="414.7" font-size="6.6" fill="#000" text-anchor="middle" font-weight="bold" font-style="normal" dominant-baseline="central">60</text>
<line x1="253.50" y1="407.00" x2="253.50" y2="409.20" stroke="#555" stroke-width="1"/>
<text x="253.5" y="414.7" font-size="6.6" fill="#000" text-anchor="middle" font-weight="bold" font-style="normal" dominant-baseline="central">90</text>
<line x1="46.60" y1="407.00" x2="48.80" y2="407.00" stroke="#555" stroke-width="1"/>
<text x="41.599999999999994" y="407.0" font-size="6.6" fill="#0000ff" text-anchor="end" font-weight="bold" font-style="normal" dominant-baseline="central">0.6</text>
<line x1="46.60" y1="380.20" x2="48.80" y2="380.20" stroke="#555" stroke-width="1"/>
<text x="41.599999999999994" y="380.2" font-size="6.6" fill="#0000ff" text-anchor="end" font-weight="bold" font-style="normal" dominant-baseline="central">0.7</text>
<line x1="46.60" y1="353.40" x2="48.80" y2="353.40" stroke="#555" stroke-width="1"/>
<text x="41.599999999999994" y="353.4" font-size="6.6" fill="#0000ff" text-anchor="end" font-weight="bold" font-style="normal" dominant-baseline="central">0.8</text>
<line x1="46.60" y1="326.60" x2="48.80" y2="326.60" stroke="#555" stroke-width="1"/>
<text x="41.599999999999994" y="326.6" font-size="6.6" fill="#0000ff" text-anchor="end" font-weight="bold" font-style="normal" dominant-baseline="central">0.9</text>
<line x1="46.60" y1="299.80" x2="48.80" y2="299.80" stroke="#555" stroke-width="1"/>
<text x="41.599999999999994" y="299.8" font-size="6.6" fill="#0000ff" text-anchor="end" font-weight="bold" font-style="normal" dominant-baseline="central">1.0</text>
<line x1="253.50" y1="407.00" x2="255.70" y2="407.00" stroke="#555" stroke-width="1"/>
<text x="258.7" y="407.0" font-size="6.6" fill="#ff0000" text-anchor="start" font-weight="bold" font-style="normal" dominant-baseline="central">1</text>
<line x1="253.50" y1="380.20" x2="255.70" y2="380.20" stroke="#555" stroke-width="1"/>
<text x="258.7" y="380.2" font-size="6.6" fill="#ff0000" text-anchor="start" font-weight="bold" font-style="normal" dominant-baseline="central">2</text>
<line x1="253.50" y1="353.40" x2="255.70" y2="353.40" stroke="#555" stroke-width="1"/>
<text x="258.7" y="353.4" font-size="6.6" fill="#ff0000" text-anchor="start" font-weight="bold" font-style="normal" dominant-baseline="central">3</text>
<line x1="253.50" y1="326.60" x2="255.70" y2="326.60" stroke="#555" stroke-width="1"/>
<text x="258.7" y="326.6" font-size="6.6" fill="#ff0000" text-anchor="start" font-weight="bold" font-style="normal" dominant-baseline="central">4</text>
<line x1="253.50" y1="299.80" x2="255.70" y2="299.80" stroke="#555" stroke-width="1"/>
<text x="258.7" y="299.8" font-size="6.6" fill="#ff0000" text-anchor="start" font-weight="bold" font-style="normal" dominant-baseline="central">5</text>
<text x="18" y="295.5" font-size="13" fill="#000" text-anchor="middle" font-weight="bold" font-style="normal" dominant-baseline="central">c</text>
<text x="23.5" y="351" font-size="9" font-weight="bold" fill="#0000ff" text-anchor="middle" dominant-baseline="central" transform="rotate(-90 23.5 351)"><tspan font-style="italic">&#945;</tspan><tspan font-size="5.5" dy="2">B</tspan></text>
<text x="270" y="350" font-size="8" font-weight="bold" fill="#ff0000" text-anchor="middle" dominant-baseline="central" transform="rotate(-90 270 350)"><tspan font-style="italic">&#956;</tspan><tspan font-size="5.5" dy="2">B</tspan><tspan dy="-2"> (cP)</tspan></text>
<text x="153.2" y="423.4" font-size="8" fill="#000" text-anchor="middle" font-weight="bold" dominant-baseline="central"><tspan font-style="italic">Z</tspan><tspan font-style="italic" font-size="5.60" dy="2.40">f</tspan><tspan dy="-2.40"> (&#956;m)</tspan></text>
<line x1="320.40" y1="22.90" x2="320.40" y2="133.10" stroke="#eeeeee" stroke-width="0.7"/>
<line x1="326.07" y1="22.90" x2="326.07" y2="133.10" stroke="#eeeeee" stroke-width="0.7"/>
<line x1="331.74" y1="22.90" x2="331.74" y2="133.10" stroke="#eeeeee" stroke-width="0.7"/>
<line x1="337.41" y1="22.90" x2="337.41" y2="133.10" stroke="#eeeeee" stroke-width="0.7"/>
<line x1="343.08" y1="22.90" x2="343.08" y2="133.10" stroke="#eeeeee" stroke-width="0.7"/>
<line x1="348.75" y1="22.90" x2="348.75" y2="133.10" stroke="#eeeeee" stroke-width="0.7"/>
<line x1="354.42" y1="22.90" x2="354.42" y2="133.10" stroke="#eeeeee" stroke-width="0.7"/>
<line x1="360.09" y1="22.90" x2="360.09" y2="133.10" stroke="#eeeeee" stroke-width="0.7"/>
<line x1="365.76" y1="22.90" x2="365.76" y2="133.10" stroke="#eeeeee" stroke-width="0.7"/>
<line x1="371.42" y1="22.90" x2="371.42" y2="133.10" stroke="#eeeeee" stroke-width="0.7"/>
<line x1="377.09" y1="22.90" x2="377.09" y2="133.10" stroke="#eeeeee" stroke-width="0.7"/>
<line x1="382.76" y1="22.90" x2="382.76" y2="133.10" stroke="#eeeeee" stroke-width="0.7"/>
<line x1="388.43" y1="22.90" x2="388.43" y2="133.10" stroke="#eeeeee" stroke-width="0.7"/>
<line x1="394.10" y1="22.90" x2="394.10" y2="133.10" stroke="#eeeeee" stroke-width="0.7"/>
<line x1="399.77" y1="22.90" x2="399.77" y2="133.10" stroke="#eeeeee" stroke-width="0.7"/>
<line x1="405.44" y1="22.90" x2="405.44" y2="133.10" stroke="#eeeeee" stroke-width="0.7"/>
<line x1="411.11" y1="22.90" x2="411.11" y2="133.10" stroke="#eeeeee" stroke-width="0.7"/>
<line x1="416.78" y1="22.90" x2="416.78" y2="133.10" stroke="#eeeeee" stroke-width="0.7"/>
<line x1="422.45" y1="22.90" x2="422.45" y2="133.10" stroke="#eeeeee" stroke-width="0.7"/>
<line x1="428.12" y1="22.90" x2="428.12" y2="133.10" stroke="#eeeeee" stroke-width="0.7"/>
<line x1="433.79" y1="22.90" x2="433.79" y2="133.10" stroke="#eeeeee" stroke-width="0.7"/>
<line x1="439.46" y1="22.90" x2="439.46" y2="133.10" stroke="#eeeeee" stroke-width="0.7"/>
<line x1="445.13" y1="22.90" x2="445.13" y2="133.10" stroke="#eeeeee" stroke-width="0.7"/>
<line x1="450.80" y1="22.90" x2="450.80" y2="133.10" stroke="#eeeeee" stroke-width="0.7"/>
<line x1="456.47" y1="22.90" x2="456.47" y2="133.10" stroke="#eeeeee" stroke-width="0.7"/>
<line x1="462.14" y1="22.90" x2="462.14" y2="133.10" stroke="#eeeeee" stroke-width="0.7"/>
<line x1="467.81" y1="22.90" x2="467.81" y2="133.10" stroke="#eeeeee" stroke-width="0.7"/>
<line x1="473.48" y1="22.90" x2="473.48" y2="133.10" stroke="#eeeeee" stroke-width="0.7"/>
<line x1="479.14" y1="22.90" x2="479.14" y2="133.10" stroke="#eeeeee" stroke-width="0.7"/>
<line x1="484.81" y1="22.90" x2="484.81" y2="133.10" stroke="#eeeeee" stroke-width="0.7"/>
<line x1="490.48" y1="22.90" x2="490.48" y2="133.10" stroke="#eeeeee" stroke-width="0.7"/>
<line x1="496.15" y1="22.90" x2="496.15" y2="133.10" stroke="#eeeeee" stroke-width="0.7"/>
<line x1="501.82" y1="22.90" x2="501.82" y2="133.10" stroke="#eeeeee" stroke-width="0.7"/>
<line x1="507.49" y1="22.90" x2="507.49" y2="133.10" stroke="#eeeeee" stroke-width="0.7"/>
<line x1="513.16" y1="22.90" x2="513.16" y2="133.10" stroke="#eeeeee" stroke-width="0.7"/>
<line x1="518.83" y1="22.90" x2="518.83" y2="133.10" stroke="#eeeeee" stroke-width="0.7"/>
<line x1="524.50" y1="22.90" x2="524.50" y2="133.10" stroke="#eeeeee" stroke-width="0.7"/>
<line x1="320.40" y1="133.10" x2="524.50" y2="133.10" stroke="#eeeeee" stroke-width="0.7"/>
<line x1="320.40" y1="127.59" x2="524.50" y2="127.59" stroke="#eeeeee" stroke-width="0.7"/>
<line x1="320.40" y1="122.08" x2="524.50" y2="122.08" stroke="#eeeeee" stroke-width="0.7"/>
<line x1="320.40" y1="116.57" x2="524.50" y2="116.57" stroke="#eeeeee" stroke-width="0.7"/>
<line x1="320.40" y1="111.06" x2="524.50" y2="111.06" stroke="#eeeeee" stroke-width="0.7"/>
<line x1="320.40" y1="105.55" x2="524.50" y2="105.55" stroke="#eeeeee" stroke-width="0.7"/>
<line x1="320.40" y1="100.04" x2="524.50" y2="100.04" stroke="#eeeeee" stroke-width="0.7"/>
<line x1="320.40" y1="94.53" x2="524.50" y2="94.53" stroke="#eeeeee" stroke-width="0.7"/>
<line x1="320.40" y1="89.02" x2="524.50" y2="89.02" stroke="#eeeeee" stroke-width="0.7"/>
<line x1="320.40" y1="83.51" x2="524.50" y2="83.51" stroke="#eeeeee" stroke-width="0.7"/>
<line x1="320.40" y1="78.00" x2="524.50" y2="78.00" stroke="#eeeeee" stroke-width="0.7"/>
<line x1="320.40" y1="72.49" x2="524.50" y2="72.49" stroke="#eeeeee" stroke-width="0.7"/>
<line x1="320.40" y1="66.98" x2="524.50" y2="66.98" stroke="#eeeeee" stroke-width="0.7"/>
<line x1="320.40" y1="61.47" x2="524.50" y2="61.47" stroke="#eeeeee" stroke-width="0.7"/>
<line x1="320.40" y1="55.96" x2="524.50" y2="55.96" stroke="#eeeeee" stroke-width="0.7"/>
<line x1="320.40" y1="50.45" x2="524.50" y2="50.45" stroke="#eeeeee" stroke-width="0.7"/>
<line x1="320.40" y1="44.94" x2="524.50" y2="44.94" stroke="#eeeeee" stroke-width="0.7"/>
<line x1="320.40" y1="39.43" x2="524.50" y2="39.43" stroke="#eeeeee" stroke-width="0.7"/>
<line x1="320.40" y1="33.92" x2="524.50" y2="33.92" stroke="#eeeeee" stroke-width="0.7"/>
<line x1="320.40" y1="28.41" x2="524.50" y2="28.41" stroke="#eeeeee" stroke-width="0.7"/>
<line x1="320.40" y1="22.90" x2="524.50" y2="22.90" stroke="#eeeeee" stroke-width="0.7"/>
<line x1="320.40" y1="22.90" x2="320.40" y2="133.10" stroke="#d8d8d8" stroke-width="0.9"/>
<line x1="337.41" y1="22.90" x2="337.41" y2="133.10" stroke="#d8d8d8" stroke-width="0.9"/>
<line x1="354.42" y1="22.90" x2="354.42" y2="133.10" stroke="#d8d8d8" stroke-width="0.9"/>
<line x1="371.42" y1="22.90" x2="371.42" y2="133.10" stroke="#d8d8d8" stroke-width="0.9"/>
<line x1="388.43" y1="22.90" x2="388.43" y2="133.10" stroke="#d8d8d8" stroke-width="0.9"/>
<line x1="405.44" y1="22.90" x2="405.44" y2="133.10" stroke="#d8d8d8" stroke-width="0.9"/>
<line x1="422.45" y1="22.90" x2="422.45" y2="133.10" stroke="#d8d8d8" stroke-width="0.9"/>
<line x1="439.46" y1="22.90" x2="439.46" y2="133.10" stroke="#d8d8d8" stroke-width="0.9"/>
<line x1="456.47" y1="22.90" x2="456.47" y2="133.10" stroke="#d8d8d8" stroke-width="0.9"/>
<line x1="473.48" y1="22.90" x2="473.48" y2="133.10" stroke="#d8d8d8" stroke-width="0.9"/>
<line x1="490.48" y1="22.90" x2="490.48" y2="133.10" stroke="#d8d8d8" stroke-width="0.9"/>
<line x1="507.49" y1="22.90" x2="507.49" y2="133.10" stroke="#d8d8d8" stroke-width="0.9"/>
<line x1="524.50" y1="22.90" x2="524.50" y2="133.10" stroke="#d8d8d8" stroke-width="0.9"/>
<line x1="320.40" y1="133.10" x2="524.50" y2="133.10" stroke="#d2d2d2" stroke-width="0.9"/>
<line x1="320.40" y1="105.55" x2="524.50" y2="105.55" stroke="#d2d2d2" stroke-width="0.9"/>
<line x1="320.40" y1="78.00" x2="524.50" y2="78.00" stroke="#d2d2d2" stroke-width="0.9"/>
<line x1="320.40" y1="50.45" x2="524.50" y2="50.45" stroke="#d2d2d2" stroke-width="0.9"/>
<line x1="320.40" y1="22.90" x2="524.50" y2="22.90" stroke="#d2d2d2" stroke-width="0.9"/>
<rect x="360.80" y="63.40" width="124.20" height="69.20" fill="#f5f5f5" stroke="none" stroke-width="0"/>
<path d="M421.2,63.4 H485 V91 H446.5 V130.3 H425 L424.8,91 Q423.5,80 421.2,63.4 Z" fill="#d4d4d4"/>
<g filter="url(#nzB)"><path d="M421.2,63.4 H485 V91 H446.5 V130.3 H425 L424.8,91 Q423.5,80 421.2,63.4 Z" fill="#ccc"/></g>
<path d="M421.2,63.4 Q423.5,80 424.8,91 L425,130.3" fill="none" stroke="#8a8a8a" stroke-width="0.9"/>
<rect x="456.00" y="65.00" width="23.70" height="25.80" fill="#40e880" stroke="none" stroke-width="1" opacity="0.55"/>
<line x1="460.00" y1="62.40" x2="485.00" y2="62.40" stroke="#c9b8e0" stroke-width="1"/>
<rect x="417.70" y="101.40" width="28.90" height="28.90" fill="none" stroke="#7030a0" stroke-width="1.1" stroke-dasharray="1.8,1.1"/>
<text x="360.8" y="70.2" font-size="7.2" fill="#000" text-anchor="start" font-weight="bold" font-style="normal" dominant-baseline="central">1x PBS sol.</text>
<text x="409.8" y="97.1" font-size="7.2" fill="#7030a0" text-anchor="middle" font-weight="bold" font-style="normal" dominant-baseline="central">ROI (300 x 400 pixels)</text>
<text x="429.6" y="71.2" font-size="8.5" fill="#ff0000" font-style="italic" font-weight="bold" dominant-baseline="central" text-anchor="middle">&#956;<tspan font-size="5.5" dy="2">R</tspan></text>
<text x="468.5" y="73" font-size="8" fill="#7030a0" font-style="italic" font-weight="bold" dominant-baseline="central" text-anchor="middle">U<tspan font-size="5.5" dy="2">R</tspan><tspan dy="-2">(y)</tspan></text>
<line x1="476.00" y1="78.40" x2="461.00" y2="78.40" stroke="#7030a0" stroke-width="1.1"/>
<polygon points="459,78.4 462,76.9 462,79.9" fill="#7030a0"/>
<line x1="471.70" y1="90.00" x2="471.70" y2="81.00" stroke="#ff0000" stroke-width="1" stroke-dasharray="1.5,1"/>
<polygon points="471.7,79.5 470.2,82.3 473.2,82.3" fill="#ff0000"/>
<text x="476.5" y="84.6" font-size="7.5" fill="#ff0000" text-anchor="middle" font-weight="bold" font-style="italic" dominant-baseline="central">y</text>
<text x="468.6" y="96.1" font-size="7.4" fill="#0000ff" text-anchor="middle" font-weight="bold" font-style="italic" dominant-baseline="central">Hct = 7%</text>
<text x="436.2" y="114.7" font-size="8.5" fill="#0000ff" font-style="italic" font-weight="bold" dominant-baseline="central" text-anchor="middle">&#945;<tspan font-size="6" dy="2">R</tspan></text>
<line x1="446.00" y1="122.70" x2="427.00" y2="122.70" stroke="#0000ff" stroke-width="1.1"/>
<polygon points="425,122.7 428,121.2 428,124.2" fill="#0000ff"/>
<text x="464.6" y="125.4" font-size="8" fill="#7030a0" text-anchor="start" font-weight="bold" dominant-baseline="central"><tspan font-style="italic">Z</tspan><tspan font-style="italic" font-size="5.60" dy="2.40">f</tspan><tspan dy="-2.40"> = 0</tspan></text>
<polyline points="337.41,133.10 348.04,64.22 358.67,57.61 369.30,52.65 379.93,48.25 390.56,46.87 401.19,45.49 411.82,44.11 422.45,43.84 433.08,44.39 443.71,46.87 454.34,47.70 464.97,48.52 475.60,51.00 486.23,56.79 496.86,61.47 507.49,133.10" fill="none" stroke="#333" stroke-width="1.2" stroke-dasharray="2.6,1.6"/>
<polyline points="337.41,133.10 348.04,59.54 358.67,55.41 369.30,48.52 379.93,44.39 390.56,42.74 401.19,41.36 411.82,39.43 422.45,38.88 433.08,40.26 443.71,40.53 454.34,41.36 464.97,42.74 475.60,45.49 486.23,53.20 496.86,58.16 507.49,133.10" fill="none" stroke="#00b050" stroke-width="1.2" stroke-dasharray="2.6,1.6"/>
<polyline points="337.41,133.10 348.04,66.15 358.67,60.37 369.30,54.03 379.93,50.73 390.56,48.52 401.19,47.70 411.82,47.42 422.45,47.14 433.08,46.32 443.71,47.14 454.34,48.25 464.97,49.62 475.60,51.83 486.23,55.96 496.86,64.22 507.49,133.10" fill="none" stroke="#7030a0" stroke-width="1.2" stroke-dasharray="2.6,1.6"/>
<polyline points="337.41,133.10 348.04,63.40 358.67,58.72 369.30,53.20 379.93,48.25 390.56,46.87 401.19,44.94 411.82,43.56 422.45,43.29 433.08,44.94 443.71,45.49 454.34,46.87 464.97,48.25 475.60,50.45 486.23,57.61 496.86,66.15 507.49,133.10" fill="none" stroke="#ff00ff" stroke-width="1.2" stroke-dasharray="2.6,1.6"/>
<polyline points="337.41,133.10 348.04,65.05 358.67,57.61 369.30,52.10 379.93,46.87 390.56,46.32 401.19,44.39 411.82,43.29 422.45,43.29 433.08,44.39 443.71,45.49 454.34,46.32 464.97,47.42 475.60,49.35 486.23,54.58 496.86,63.95 507.49,133.10" fill="none" stroke="#ff0000" stroke-width="1.2" stroke-dasharray="2.6,1.6"/>
<circle cx="337.41" cy="133.10" r="1.6" fill="#fff" stroke="#333" stroke-width="1"/>
<circle cx="348.04" cy="64.22" r="1.6" fill="#fff" stroke="#333" stroke-width="1"/>
<circle cx="358.67" cy="57.61" r="1.6" fill="#fff" stroke="#333" stroke-width="1"/>
<circle cx="369.30" cy="52.65" r="1.6" fill="#fff" stroke="#333" stroke-width="1"/>
<circle cx="379.93" cy="48.25" r="1.6" fill="#fff" stroke="#333" stroke-width="1"/>
<circle cx="390.56" cy="46.87" r="1.6" fill="#fff" stroke="#333" stroke-width="1"/>
<circle cx="401.19" cy="45.49" r="1.6" fill="#fff" stroke="#333" stroke-width="1"/>
<circle cx="411.82" cy="44.11" r="1.6" fill="#fff" stroke="#333" stroke-width="1"/>
<circle cx="422.45" cy="43.84" r="1.6" fill="#fff" stroke="#333" stroke-width="1"/>
<circle cx="433.08" cy="44.39" r="1.6" fill="#fff" stroke="#333" stroke-width="1"/>
<circle cx="443.71" cy="46.87" r="1.6" fill="#fff" stroke="#333" stroke-width="1"/>
<circle cx="454.34" cy="47.70" r="1.6" fill="#fff" stroke="#333" stroke-width="1"/>
<circle cx="464.97" cy="48.52" r="1.6" fill="#fff" stroke="#333" stroke-width="1"/>
<circle cx="475.60" cy="51.00" r="1.6" fill="#fff" stroke="#333" stroke-width="1"/>
<circle cx="486.23" cy="56.79" r="1.6" fill="#fff" stroke="#333" stroke-width="1"/>
<circle cx="496.86" cy="61.47" r="1.6" fill="#fff" stroke="#333" stroke-width="1"/>
<circle cx="507.49" cy="133.10" r="1.6" fill="#fff" stroke="#333" stroke-width="1"/>
<rect x="335.81" y="131.50" width="3.2" height="3.2" fill="#fff" stroke="#00b050" stroke-width="1"/>
<rect x="346.44" y="57.94" width="3.2" height="3.2" fill="#fff" stroke="#00b050" stroke-width="1"/>
<rect x="357.07" y="53.81" width="3.2" height="3.2" fill="#fff" stroke="#00b050" stroke-width="1"/>
<rect x="367.70" y="46.92" width="3.2" height="3.2" fill="#fff" stroke="#00b050" stroke-width="1"/>
<rect x="378.33" y="42.79" width="3.2" height="3.2" fill="#fff" stroke="#00b050" stroke-width="1"/>
<rect x="388.96" y="41.14" width="3.2" height="3.2" fill="#fff" stroke="#00b050" stroke-width="1"/>
<rect x="399.59" y="39.76" width="3.2" height="3.2" fill="#fff" stroke="#00b050" stroke-width="1"/>
<rect x="410.22" y="37.83" width="3.2" height="3.2" fill="#fff" stroke="#00b050" stroke-width="1"/>
<rect x="420.85" y="37.28" width="3.2" height="3.2" fill="#fff" stroke="#00b050" stroke-width="1"/>
<rect x="431.48" y="38.66" width="3.2" height="3.2" fill="#fff" stroke="#00b050" stroke-width="1"/>
<rect x="442.11" y="38.93" width="3.2" height="3.2" fill="#fff" stroke="#00b050" stroke-width="1"/>
<rect x="452.74" y="39.76" width="3.2" height="3.2" fill="#fff" stroke="#00b050" stroke-width="1"/>
<rect x="463.37" y="41.14" width="3.2" height="3.2" fill="#fff" stroke="#00b050" stroke-width="1"/>
<rect x="474.00" y="43.89" width="3.2" height="3.2" fill="#fff" stroke="#00b050" stroke-width="1"/>
<rect x="484.63" y="51.60" width="3.2" height="3.2" fill="#fff" stroke="#00b050" stroke-width="1"/>
<rect x="495.26" y="56.56" width="3.2" height="3.2" fill="#fff" stroke="#00b050" stroke-width="1"/>
<rect x="505.89" y="131.50" width="3.2" height="3.2" fill="#fff" stroke="#00b050" stroke-width="1"/>
<polygon points="337.41,131.10 339.41,134.70 335.41,134.70" fill="#7030a0"/>
<polygon points="348.04,64.15 350.04,67.75 346.04,67.75" fill="#7030a0"/>
<polygon points="358.67,58.37 360.67,61.97 356.67,61.97" fill="#7030a0"/>
<polygon points="369.30,52.03 371.30,55.63 367.30,55.63" fill="#7030a0"/>
<polygon points="379.93,48.73 381.93,52.33 377.93,52.33" fill="#7030a0"/>
<polygon points="390.56,46.52 392.56,50.12 388.56,50.12" fill="#7030a0"/>
<polygon points="401.19,45.70 403.19,49.30 399.19,49.30" fill="#7030a0"/>
<polygon points="411.82,45.42 413.82,49.02 409.82,49.02" fill="#7030a0"/>
<polygon points="422.45,45.14 424.45,48.74 420.45,48.74" fill="#7030a0"/>
<polygon points="433.08,44.32 435.08,47.92 431.08,47.92" fill="#7030a0"/>
<polygon points="443.71,45.14 445.71,48.74 441.71,48.74" fill="#7030a0"/>
<polygon points="454.34,46.25 456.34,49.85 452.34,49.85" fill="#7030a0"/>
<polygon points="464.97,47.62 466.97,51.22 462.97,51.22" fill="#7030a0"/>
<polygon points="475.60,49.83 477.60,53.43 473.60,53.43" fill="#7030a0"/>
<polygon points="486.23,53.96 488.23,57.56 484.23,57.56" fill="#7030a0"/>
<polygon points="496.86,62.22 498.86,65.82 494.86,65.82" fill="#7030a0"/>
<polygon points="507.49,131.10 509.49,134.70 505.49,134.70" fill="#7030a0"/>
<polygon points="337.41,130.90 339.61,133.10 337.41,135.30 335.21,133.10" fill="#ff00ff"/>
<polygon points="348.04,61.20 350.24,63.40 348.04,65.60 345.84,63.40" fill="#ff00ff"/>
<polygon points="358.67,56.52 360.87,58.72 358.67,60.92 356.47,58.72" fill="#ff00ff"/>
<polygon points="369.30,51.00 371.50,53.20 369.30,55.41 367.10,53.20" fill="#ff00ff"/>
<polygon points="379.93,46.05 382.13,48.25 379.93,50.45 377.73,48.25" fill="#ff00ff"/>
<polygon points="390.56,44.67 392.76,46.87 390.56,49.07 388.36,46.87" fill="#ff00ff"/>
<polygon points="401.19,42.74 403.39,44.94 401.19,47.14 398.99,44.94" fill="#ff00ff"/>
<polygon points="411.82,41.36 414.02,43.56 411.82,45.76 409.62,43.56" fill="#ff00ff"/>
<polygon points="422.45,41.09 424.65,43.29 422.45,45.49 420.25,43.29" fill="#ff00ff"/>
<polygon points="433.08,42.74 435.28,44.94 433.08,47.14 430.88,44.94" fill="#ff00ff"/>
<polygon points="443.71,43.29 445.91,45.49 443.71,47.69 441.51,45.49" fill="#ff00ff"/>
<polygon points="454.34,44.67 456.54,46.87 454.34,49.07 452.14,46.87" fill="#ff00ff"/>
<polygon points="464.97,46.05 467.17,48.25 464.97,50.45 462.77,48.25" fill="#ff00ff"/>
<polygon points="475.60,48.25 477.80,50.45 475.60,52.65 473.40,50.45" fill="#ff00ff"/>
<polygon points="486.23,55.41 488.43,57.61 486.23,59.81 484.03,57.61" fill="#ff00ff"/>
<polygon points="496.86,63.95 499.06,66.15 496.86,68.35 494.66,66.15" fill="#ff00ff"/>
<polygon points="507.49,130.90 509.69,133.10 507.49,135.30 505.29,133.10" fill="#ff00ff"/>
<rect x="336.11" y="131.80" width="2.6" height="2.6" fill="#ff0000"/>
<rect x="346.74" y="63.75" width="2.6" height="2.6" fill="#ff0000"/>
<rect x="357.37" y="56.31" width="2.6" height="2.6" fill="#ff0000"/>
<rect x="368.00" y="50.80" width="2.6" height="2.6" fill="#ff0000"/>
<rect x="378.63" y="45.57" width="2.6" height="2.6" fill="#ff0000"/>
<rect x="389.26" y="45.02" width="2.6" height="2.6" fill="#ff0000"/>
<rect x="399.89" y="43.09" width="2.6" height="2.6" fill="#ff0000"/>
<rect x="410.52" y="41.99" width="2.6" height="2.6" fill="#ff0000"/>
<rect x="421.15" y="41.99" width="2.6" height="2.6" fill="#ff0000"/>
<rect x="431.78" y="43.09" width="2.6" height="2.6" fill="#ff0000"/>
<rect x="442.41" y="44.19" width="2.6" height="2.6" fill="#ff0000"/>
<rect x="453.04" y="45.02" width="2.6" height="2.6" fill="#ff0000"/>
<rect x="463.67" y="46.12" width="2.6" height="2.6" fill="#ff0000"/>
<rect x="474.30" y="48.05" width="2.6" height="2.6" fill="#ff0000"/>
<rect x="484.93" y="53.28" width="2.6" height="2.6" fill="#ff0000"/>
<rect x="495.56" y="62.65" width="2.6" height="2.6" fill="#ff0000"/>
<rect x="506.19" y="131.80" width="2.6" height="2.6" fill="#ff0000"/>
<rect x="320.40" y="22.90" width="204.10" height="110.20" fill="none" stroke="#454545" stroke-width="1.45"/>
<line x1="320.40" y1="133.10" x2="320.40" y2="135.30" stroke="#555" stroke-width="1"/>
<text x="320.4" y="141.0" font-size="7" fill="#000" text-anchor="middle" font-weight="bold" font-style="normal" dominant-baseline="central">-15</text>
<line x1="337.41" y1="133.10" x2="337.41" y2="135.30" stroke="#555" stroke-width="1"/>
<text x="337.4083333333333" y="141.0" font-size="7" fill="#000" text-anchor="middle" font-weight="bold" font-style="normal" dominant-baseline="central">0</text>
<line x1="354.42" y1="133.10" x2="354.42" y2="135.30" stroke="#555" stroke-width="1"/>
<text x="354.41666666666663" y="141.0" font-size="7" fill="#000" text-anchor="middle" font-weight="bold" font-style="normal" dominant-baseline="central">15</text>
<line x1="371.42" y1="133.10" x2="371.42" y2="135.30" stroke="#555" stroke-width="1"/>
<text x="371.42499999999995" y="141.0" font-size="7" fill="#000" text-anchor="middle" font-weight="bold" font-style="normal" dominant-baseline="central">30</text>
<line x1="388.43" y1="133.10" x2="388.43" y2="135.30" stroke="#555" stroke-width="1"/>
<text x="388.4333333333333" y="141.0" font-size="7" fill="#000" text-anchor="middle" font-weight="bold" font-style="normal" dominant-baseline="central">45</text>
<line x1="405.44" y1="133.10" x2="405.44" y2="135.30" stroke="#555" stroke-width="1"/>
<text x="405.44166666666666" y="141.0" font-size="7" fill="#000" text-anchor="middle" font-weight="bold" font-style="normal" dominant-baseline="central">60</text>
<line x1="422.45" y1="133.10" x2="422.45" y2="135.30" stroke="#555" stroke-width="1"/>
<text x="422.45" y="141.0" font-size="7" fill="#000" text-anchor="middle" font-weight="bold" font-style="normal" dominant-baseline="central">75</text>
<line x1="439.46" y1="133.10" x2="439.46" y2="135.30" stroke="#555" stroke-width="1"/>
<text x="439.4583333333333" y="141.0" font-size="7" fill="#000" text-anchor="middle" font-weight="bold" font-style="normal" dominant-baseline="central">90</text>
<line x1="456.47" y1="133.10" x2="456.47" y2="135.30" stroke="#555" stroke-width="1"/>
<text x="456.46666666666664" y="141.0" font-size="7" fill="#000" text-anchor="middle" font-weight="bold" font-style="normal" dominant-baseline="central">105</text>
<line x1="473.48" y1="133.10" x2="473.48" y2="135.30" stroke="#555" stroke-width="1"/>
<text x="473.475" y="141.0" font-size="7" fill="#000" text-anchor="middle" font-weight="bold" font-style="normal" dominant-baseline="central">120</text>
<line x1="490.48" y1="133.10" x2="490.48" y2="135.30" stroke="#555" stroke-width="1"/>
<text x="490.48333333333335" y="141.0" font-size="7" fill="#000" text-anchor="middle" font-weight="bold" font-style="normal" dominant-baseline="central">135</text>
<line x1="507.49" y1="133.10" x2="507.49" y2="135.30" stroke="#555" stroke-width="1"/>
<text x="507.4916666666667" y="141.0" font-size="7" fill="#000" text-anchor="middle" font-weight="bold" font-style="normal" dominant-baseline="central">150</text>
<line x1="524.50" y1="133.10" x2="524.50" y2="135.30" stroke="#555" stroke-width="1"/>
<text x="524.5" y="141.0" font-size="7" fill="#000" text-anchor="middle" font-weight="bold" font-style="normal" dominant-baseline="central">165</text>
<line x1="318.20" y1="133.10" x2="320.40" y2="133.10" stroke="#555" stroke-width="1"/>
<text x="315.5" y="133.1" font-size="7" fill="#000" text-anchor="end" font-weight="bold" font-style="normal" dominant-baseline="central">0</text>
<line x1="318.20" y1="105.55" x2="320.40" y2="105.55" stroke="#555" stroke-width="1"/>
<text x="315.5" y="105.55" font-size="7" fill="#000" text-anchor="end" font-weight="bold" font-style="normal" dominant-baseline="central">10</text>
<line x1="318.20" y1="78.00" x2="320.40" y2="78.00" stroke="#555" stroke-width="1"/>
<text x="315.5" y="78.0" font-size="7" fill="#000" text-anchor="end" font-weight="bold" font-style="normal" dominant-baseline="central">20</text>
<line x1="318.20" y1="50.45" x2="320.40" y2="50.45" stroke="#555" stroke-width="1"/>
<text x="315.5" y="50.45" font-size="7" fill="#000" text-anchor="end" font-weight="bold" font-style="normal" dominant-baseline="central">30</text>
<line x1="318.20" y1="22.90" x2="320.40" y2="22.90" stroke="#555" stroke-width="1"/>
<text x="315.5" y="22.900000000000006" font-size="7" fill="#000" text-anchor="end" font-weight="bold" font-style="normal" dominant-baseline="central">40</text>
<rect x="337.30" y="13.10" width="169.20" height="20.80" fill="#fff" stroke="#999" stroke-width="1"/>
<line x1="344.50" y1="18.20" x2="351.50" y2="18.20" stroke="#333" stroke-width="1" stroke-dasharray="1.2,0.8"/>
<circle cx="348" cy="18.2" r="1.5" fill="#666" stroke="#333" stroke-width="0.8"/>
<text x="354" y="18.2" font-size="6.9" fill="#000" text-anchor="start" font-weight="bold" dominant-baseline="central"><tspan font-style="italic">Z</tspan><tspan font-style="italic" font-size="4.83" dy="2.07">f</tspan><tspan dy="-2.07"> = -60 &#956;m</tspan></text>
<line x1="399.50" y1="18.20" x2="406.50" y2="18.20" stroke="#00b050" stroke-width="1" stroke-dasharray="1.2,0.8"/>
<rect x="401.56" y="16.76" width="2.8800000000000003" height="2.8800000000000003" fill="#fff" stroke="#00b050" stroke-width="1"/>
<text x="409" y="18.2" font-size="6.9" fill="#00b050" text-anchor="start" font-weight="bold" dominant-baseline="central"><tspan font-style="italic">Z</tspan><tspan font-style="italic" font-size="4.83" dy="2.07">f</tspan><tspan dy="-2.07"> = -30 &#956;m</tspan></text>
<line x1="455.50" y1="18.20" x2="462.50" y2="18.20" stroke="#7030a0" stroke-width="1" stroke-dasharray="1.2,0.8"/>
<polygon points="459.00,16.40 460.80,19.64 457.20,19.64" fill="#7030a0"/>
<text x="465" y="18.2" font-size="6.9" fill="#7030a0" text-anchor="start" font-weight="bold" dominant-baseline="central"><tspan font-style="italic">Z</tspan><tspan font-style="italic" font-size="4.83" dy="2.07">f</tspan><tspan dy="-2.07"> = 0</tspan></text>
<line x1="344.50" y1="27.90" x2="351.50" y2="27.90" stroke="#ff00ff" stroke-width="1" stroke-dasharray="1.2,0.8"/>
<polygon points="348.00,25.92 349.98,27.90 348.00,29.88 346.02,27.90" fill="#ff00ff"/>
<text x="354" y="27.9" font-size="6.9" fill="#ff00ff" text-anchor="start" font-weight="bold" dominant-baseline="central"><tspan font-style="italic">Z</tspan><tspan font-style="italic" font-size="4.83" dy="2.07">f</tspan><tspan dy="-2.07"> = 30 &#956;m</tspan></text>
<line x1="399.50" y1="27.90" x2="406.50" y2="27.90" stroke="#ff0000" stroke-width="1" stroke-dasharray="1.2,0.8"/>
<rect x="401.83" y="26.73" width="2.3400000000000003" height="2.3400000000000003" fill="#ff0000"/>
<text x="409" y="27.9" font-size="6.9" fill="#ff0000" text-anchor="start" font-weight="bold" dominant-baseline="central"><tspan font-style="italic">Z</tspan><tspan font-style="italic" font-size="4.83" dy="2.07">f</tspan><tspan dy="-2.07"> = 60 &#956;m</tspan></text>
<text x="284.8" y="9.4" font-size="12" fill="#000" text-anchor="middle" font-weight="bold" font-style="normal" dominant-baseline="central">B</text>
<text x="296.2" y="16.8" font-size="13" fill="#000" text-anchor="middle" font-weight="bold" font-style="normal" dominant-baseline="central">a</text>
<text x="303.2" y="69" font-size="7.6" font-weight="bold" text-anchor="middle" dominant-baseline="central" transform="rotate(-90 303.2 69)"><tspan font-style="italic">U</tspan><tspan font-size="5.5" dy="2">R</tspan><tspan dy="-2"> (mm/s)</tspan></text>
<text x="423.5" y="151" font-size="8" font-weight="bold" text-anchor="middle" dominant-baseline="central"><tspan font-style="italic">Y</tspan> (&#956;m)</text>
<line x1="320.30" y1="168.00" x2="320.30" y2="273.00" stroke="#e9e9e9" stroke-width="0.7"/>
<line x1="337.32" y1="168.00" x2="337.32" y2="273.00" stroke="#e9e9e9" stroke-width="0.7"/>
<line x1="354.33" y1="168.00" x2="354.33" y2="273.00" stroke="#e9e9e9" stroke-width="0.7"/>
<line x1="371.35" y1="168.00" x2="371.35" y2="273.00" stroke="#e9e9e9" stroke-width="0.7"/>
<line x1="388.37" y1="168.00" x2="388.37" y2="273.00" stroke="#e9e9e9" stroke-width="0.7"/>
<line x1="405.38" y1="168.00" x2="405.38" y2="273.00" stroke="#e9e9e9" stroke-width="0.7"/>
<line x1="422.40" y1="168.00" x2="422.40" y2="273.00" stroke="#e9e9e9" stroke-width="0.7"/>
<line x1="439.42" y1="168.00" x2="439.42" y2="273.00" stroke="#e9e9e9" stroke-width="0.7"/>
<line x1="456.43" y1="168.00" x2="456.43" y2="273.00" stroke="#e9e9e9" stroke-width="0.7"/>
<line x1="473.45" y1="168.00" x2="473.45" y2="273.00" stroke="#e9e9e9" stroke-width="0.7"/>
<line x1="490.47" y1="168.00" x2="490.47" y2="273.00" stroke="#e9e9e9" stroke-width="0.7"/>
<line x1="507.48" y1="168.00" x2="507.48" y2="273.00" stroke="#e9e9e9" stroke-width="0.7"/>
<line x1="524.50" y1="168.00" x2="524.50" y2="273.00" stroke="#e9e9e9" stroke-width="0.7"/>
<line x1="320.30" y1="273.00" x2="524.50" y2="273.00" stroke="#e9e9e9" stroke-width="0.7"/>
<line x1="320.30" y1="267.75" x2="524.50" y2="267.75" stroke="#e9e9e9" stroke-width="0.7"/>
<line x1="320.30" y1="262.50" x2="524.50" y2="262.50" stroke="#e9e9e9" stroke-width="0.7"/>
<line x1="320.30" y1="257.25" x2="524.50" y2="257.25" stroke="#e9e9e9" stroke-width="0.7"/>
<line x1="320.30" y1="252.00" x2="524.50" y2="252.00" stroke="#e9e9e9" stroke-width="0.7"/>
<line x1="320.30" y1="246.75" x2="524.50" y2="246.75" stroke="#e9e9e9" stroke-width="0.7"/>
<line x1="320.30" y1="241.50" x2="524.50" y2="241.50" stroke="#e9e9e9" stroke-width="0.7"/>
<line x1="320.30" y1="236.25" x2="524.50" y2="236.25" stroke="#e9e9e9" stroke-width="0.7"/>
<line x1="320.30" y1="231.00" x2="524.50" y2="231.00" stroke="#e9e9e9" stroke-width="0.7"/>
<line x1="320.30" y1="225.75" x2="524.50" y2="225.75" stroke="#e9e9e9" stroke-width="0.7"/>
<line x1="320.30" y1="220.50" x2="524.50" y2="220.50" stroke="#e9e9e9" stroke-width="0.7"/>
<line x1="320.30" y1="215.25" x2="524.50" y2="215.25" stroke="#e9e9e9" stroke-width="0.7"/>
<line x1="320.30" y1="210.00" x2="524.50" y2="210.00" stroke="#e9e9e9" stroke-width="0.7"/>
<line x1="320.30" y1="204.75" x2="524.50" y2="204.75" stroke="#e9e9e9" stroke-width="0.7"/>
<line x1="320.30" y1="199.50" x2="524.50" y2="199.50" stroke="#e9e9e9" stroke-width="0.7"/>
<line x1="320.30" y1="194.25" x2="524.50" y2="194.25" stroke="#e9e9e9" stroke-width="0.7"/>
<line x1="320.30" y1="189.00" x2="524.50" y2="189.00" stroke="#e9e9e9" stroke-width="0.7"/>
<line x1="320.30" y1="183.75" x2="524.50" y2="183.75" stroke="#e9e9e9" stroke-width="0.7"/>
<line x1="320.30" y1="178.50" x2="524.50" y2="178.50" stroke="#e9e9e9" stroke-width="0.7"/>
<line x1="320.30" y1="173.25" x2="524.50" y2="173.25" stroke="#e9e9e9" stroke-width="0.7"/>
<line x1="320.30" y1="168.00" x2="524.50" y2="168.00" stroke="#e9e9e9" stroke-width="0.7"/>
<line x1="320.30" y1="168.00" x2="320.30" y2="273.00" stroke="#d8d8d8" stroke-width="0.9"/>
<line x1="354.33" y1="168.00" x2="354.33" y2="273.00" stroke="#d8d8d8" stroke-width="0.9"/>
<line x1="388.37" y1="168.00" x2="388.37" y2="273.00" stroke="#d8d8d8" stroke-width="0.9"/>
<line x1="422.40" y1="168.00" x2="422.40" y2="273.00" stroke="#d8d8d8" stroke-width="0.9"/>
<line x1="456.43" y1="168.00" x2="456.43" y2="273.00" stroke="#d8d8d8" stroke-width="0.9"/>
<line x1="490.47" y1="168.00" x2="490.47" y2="273.00" stroke="#d8d8d8" stroke-width="0.9"/>
<line x1="524.50" y1="168.00" x2="524.50" y2="273.00" stroke="#d8d8d8" stroke-width="0.9"/>
<line x1="320.30" y1="273.00" x2="524.50" y2="273.00" stroke="#e0e0e0" stroke-width="0.9"/>
<line x1="320.30" y1="246.75" x2="524.50" y2="246.75" stroke="#e0e0e0" stroke-width="0.9"/>
<line x1="320.30" y1="220.50" x2="524.50" y2="220.50" stroke="#e0e0e0" stroke-width="0.9"/>
<line x1="320.30" y1="194.25" x2="524.50" y2="194.25" stroke="#e0e0e0" stroke-width="0.9"/>
<line x1="320.30" y1="168.00" x2="524.50" y2="168.00" stroke="#e0e0e0" stroke-width="0.9"/>
<polyline points="354.33,220.50 371.35,215.78 388.37,211.05 405.38,216.30 422.40,221.03 439.42,216.83 456.43,217.88 473.45,217.35 490.47,218.40" fill="none" stroke="#333" stroke-width="1.0" stroke-dasharray="1.2,1.2"/>
<line x1="354.33" y1="224.18" x2="354.33" y2="216.83" stroke="#333" stroke-width="0.9"/>
<polygon points="354.33,218.20 355.83,220.50 354.33,222.80 352.83,220.50" fill="#444" stroke="#222" stroke-width="0.8"/>
<line x1="371.35" y1="218.93" x2="371.35" y2="212.62" stroke="#333" stroke-width="0.9"/>
<polygon points="371.35,213.47 372.85,215.78 371.35,218.08 369.85,215.78" fill="#444" stroke="#222" stroke-width="0.8"/>
<line x1="388.37" y1="214.20" x2="388.37" y2="207.90" stroke="#333" stroke-width="0.9"/>
<polygon points="388.37,208.75 389.87,211.05 388.37,213.35 386.87,211.05" fill="#444" stroke="#222" stroke-width="0.8"/>
<line x1="405.38" y1="219.45" x2="405.38" y2="213.15" stroke="#333" stroke-width="0.9"/>
<polygon points="405.38,214.00 406.88,216.30 405.38,218.60 403.88,216.30" fill="#444" stroke="#222" stroke-width="0.8"/>
<line x1="422.40" y1="223.12" x2="422.40" y2="218.93" stroke="#333" stroke-width="0.9"/>
<polygon points="422.40,218.72 423.90,221.03 422.40,223.33 420.90,221.03" fill="#444" stroke="#222" stroke-width="0.8"/>
<line x1="439.42" y1="219.98" x2="439.42" y2="213.68" stroke="#333" stroke-width="0.9"/>
<polygon points="439.42,214.53 440.92,216.83 439.42,219.13 437.92,216.83" fill="#444" stroke="#222" stroke-width="0.8"/>
<line x1="456.43" y1="220.50" x2="456.43" y2="215.25" stroke="#333" stroke-width="0.9"/>
<polygon points="456.43,215.57 457.93,217.88 456.43,220.18 454.93,217.88" fill="#444" stroke="#222" stroke-width="0.8"/>
<line x1="473.45" y1="220.50" x2="473.45" y2="214.20" stroke="#333" stroke-width="0.9"/>
<polygon points="473.45,215.05 474.95,217.35 473.45,219.65 471.95,217.35" fill="#444" stroke="#222" stroke-width="0.8"/>
<line x1="490.47" y1="221.55" x2="490.47" y2="215.25" stroke="#333" stroke-width="0.9"/>
<polygon points="490.47,216.10 491.97,218.40 490.47,220.70 488.97,218.40" fill="#444" stroke="#222" stroke-width="0.8"/>
<rect x="320.30" y="168.00" width="204.20" height="105.00" fill="none" stroke="#454545" stroke-width="1.45"/>
<line x1="320.30" y1="273.00" x2="320.30" y2="275.20" stroke="#555" stroke-width="1"/>
<text x="320.3" y="280.5" font-size="6.6" fill="#000" text-anchor="middle" font-weight="bold" font-style="normal" dominant-baseline="central">-90</text>
<line x1="354.33" y1="273.00" x2="354.33" y2="275.20" stroke="#555" stroke-width="1"/>
<text x="354.33333333333337" y="280.5" font-size="6.6" fill="#000" text-anchor="middle" font-weight="bold" font-style="normal" dominant-baseline="central">-60</text>
<line x1="388.37" y1="273.00" x2="388.37" y2="275.20" stroke="#555" stroke-width="1"/>
<text x="388.3666666666667" y="280.5" font-size="6.6" fill="#000" text-anchor="middle" font-weight="bold" font-style="normal" dominant-baseline="central">-30</text>
<line x1="422.40" y1="273.00" x2="422.40" y2="275.20" stroke="#555" stroke-width="1"/>
<text x="422.4" y="280.5" font-size="6.6" fill="#000" text-anchor="middle" font-weight="bold" font-style="normal" dominant-baseline="central">0</text>
<line x1="456.43" y1="273.00" x2="456.43" y2="275.20" stroke="#555" stroke-width="1"/>
<text x="456.43333333333334" y="280.5" font-size="6.6" fill="#000" text-anchor="middle" font-weight="bold" font-style="normal" dominant-baseline="central">30</text>
<line x1="490.47" y1="273.00" x2="490.47" y2="275.20" stroke="#555" stroke-width="1"/>
<text x="490.4666666666667" y="280.5" font-size="6.6" fill="#000" text-anchor="middle" font-weight="bold" font-style="normal" dominant-baseline="central">60</text>
<line x1="524.50" y1="273.00" x2="524.50" y2="275.20" stroke="#555" stroke-width="1"/>
<text x="524.5" y="280.5" font-size="6.6" fill="#000" text-anchor="middle" font-weight="bold" font-style="normal" dominant-baseline="central">90</text>
<line x1="318.10" y1="273.00" x2="320.30" y2="273.00" stroke="#555" stroke-width="1"/>
<text x="313.3" y="273.0" font-size="6.6" fill="#000" text-anchor="end" font-weight="bold" font-style="normal" dominant-baseline="central">20</text>
<line x1="318.10" y1="246.75" x2="320.30" y2="246.75" stroke="#555" stroke-width="1"/>
<text x="313.3" y="246.75" font-size="6.6" fill="#000" text-anchor="end" font-weight="bold" font-style="normal" dominant-baseline="central">25</text>
<line x1="318.10" y1="220.50" x2="320.30" y2="220.50" stroke="#555" stroke-width="1"/>
<text x="313.3" y="220.5" font-size="6.6" fill="#000" text-anchor="end" font-weight="bold" font-style="normal" dominant-baseline="central">30</text>
<line x1="318.10" y1="194.25" x2="320.30" y2="194.25" stroke="#555" stroke-width="1"/>
<text x="313.3" y="194.25" font-size="6.6" fill="#000" text-anchor="end" font-weight="bold" font-style="normal" dominant-baseline="central">35</text>
<line x1="318.10" y1="168.00" x2="320.30" y2="168.00" stroke="#555" stroke-width="1"/>
<text x="313.3" y="168.0" font-size="6.6" fill="#000" text-anchor="end" font-weight="bold" font-style="normal" dominant-baseline="central">40</text>
<text x="296.5" y="161.3" font-size="13" fill="#000" text-anchor="middle" font-weight="bold" font-style="normal" dominant-baseline="central">b</text>
<text x="301" y="220" font-size="7.5" font-weight="bold" text-anchor="middle" dominant-baseline="central" transform="rotate(-90 301 220)">&lt;<tspan font-style="italic">U</tspan><tspan font-size="5.5" dy="2">R</tspan><tspan dy="-2">&gt; (mm/s)</tspan></text>
<text x="432.2" y="288.5" font-size="8" fill="#000" text-anchor="middle" font-weight="bold" dominant-baseline="central"><tspan font-style="italic">Z</tspan><tspan font-style="italic" font-size="5.60" dy="2.40">f</tspan><tspan dy="-2.40"> (&#956;m)</tspan></text>
<line x1="319.50" y1="299.60" x2="319.50" y2="406.00" stroke="#ececec" stroke-width="0.7"/>
<line x1="336.57" y1="299.60" x2="336.57" y2="406.00" stroke="#ececec" stroke-width="0.7"/>
<line x1="353.65" y1="299.60" x2="353.65" y2="406.00" stroke="#ececec" stroke-width="0.7"/>
<line x1="370.73" y1="299.60" x2="370.73" y2="406.00" stroke="#ececec" stroke-width="0.7"/>
<line x1="387.80" y1="299.60" x2="387.80" y2="406.00" stroke="#ececec" stroke-width="0.7"/>
<line x1="404.88" y1="299.60" x2="404.88" y2="406.00" stroke="#ececec" stroke-width="0.7"/>
<line x1="421.95" y1="299.60" x2="421.95" y2="406.00" stroke="#ececec" stroke-width="0.7"/>
<line x1="439.02" y1="299.60" x2="439.02" y2="406.00" stroke="#ececec" stroke-width="0.7"/>
<line x1="456.10" y1="299.60" x2="456.10" y2="406.00" stroke="#ececec" stroke-width="0.7"/>
<line x1="473.17" y1="299.60" x2="473.17" y2="406.00" stroke="#ececec" stroke-width="0.7"/>
<line x1="490.25" y1="299.60" x2="490.25" y2="406.00" stroke="#ececec" stroke-width="0.7"/>
<line x1="507.32" y1="299.60" x2="507.32" y2="406.00" stroke="#ececec" stroke-width="0.7"/>
<line x1="524.40" y1="299.60" x2="524.40" y2="406.00" stroke="#ececec" stroke-width="0.7"/>
<line x1="319.50" y1="406.00" x2="524.40" y2="406.00" stroke="#ececec" stroke-width="0.7"/>
<line x1="319.50" y1="400.68" x2="524.40" y2="400.68" stroke="#ececec" stroke-width="0.7"/>
<line x1="319.50" y1="395.36" x2="524.40" y2="395.36" stroke="#ececec" stroke-width="0.7"/>
<line x1="319.50" y1="390.04" x2="524.40" y2="390.04" stroke="#ececec" stroke-width="0.7"/>
<line x1="319.50" y1="384.72" x2="524.40" y2="384.72" stroke="#ececec" stroke-width="0.7"/>
<line x1="319.50" y1="379.40" x2="524.40" y2="379.40" stroke="#ececec" stroke-width="0.7"/>
<line x1="319.50" y1="374.08" x2="524.40" y2="374.08" stroke="#ececec" stroke-width="0.7"/>
<line x1="319.50" y1="368.76" x2="524.40" y2="368.76" stroke="#ececec" stroke-width="0.7"/>
<line x1="319.50" y1="363.44" x2="524.40" y2="363.44" stroke="#ececec" stroke-width="0.7"/>
<line x1="319.50" y1="358.12" x2="524.40" y2="358.12" stroke="#ececec" stroke-width="0.7"/>
<line x1="319.50" y1="352.80" x2="524.40" y2="352.80" stroke="#ececec" stroke-width="0.7"/>
<line x1="319.50" y1="347.48" x2="524.40" y2="347.48" stroke="#ececec" stroke-width="0.7"/>
<line x1="319.50" y1="342.16" x2="524.40" y2="342.16" stroke="#ececec" stroke-width="0.7"/>
<line x1="319.50" y1="336.84" x2="524.40" y2="336.84" stroke="#ececec" stroke-width="0.7"/>
<line x1="319.50" y1="331.52" x2="524.40" y2="331.52" stroke="#ececec" stroke-width="0.7"/>
<line x1="319.50" y1="326.20" x2="524.40" y2="326.20" stroke="#ececec" stroke-width="0.7"/>
<line x1="319.50" y1="320.88" x2="524.40" y2="320.88" stroke="#ececec" stroke-width="0.7"/>
<line x1="319.50" y1="315.56" x2="524.40" y2="315.56" stroke="#ececec" stroke-width="0.7"/>
<line x1="319.50" y1="310.24" x2="524.40" y2="310.24" stroke="#ececec" stroke-width="0.7"/>
<line x1="319.50" y1="304.92" x2="524.40" y2="304.92" stroke="#ececec" stroke-width="0.7"/>
<line x1="319.50" y1="299.60" x2="524.40" y2="299.60" stroke="#ececec" stroke-width="0.7"/>
<line x1="319.50" y1="299.60" x2="319.50" y2="406.00" stroke="#d9d9d9" stroke-width="0.9"/>
<line x1="353.65" y1="299.60" x2="353.65" y2="406.00" stroke="#d9d9d9" stroke-width="0.9"/>
<line x1="387.80" y1="299.60" x2="387.80" y2="406.00" stroke="#d9d9d9" stroke-width="0.9"/>
<line x1="421.95" y1="299.60" x2="421.95" y2="406.00" stroke="#d9d9d9" stroke-width="0.9"/>
<line x1="456.10" y1="299.60" x2="456.10" y2="406.00" stroke="#d9d9d9" stroke-width="0.9"/>
<line x1="490.25" y1="299.60" x2="490.25" y2="406.00" stroke="#d9d9d9" stroke-width="0.9"/>
<line x1="524.40" y1="299.60" x2="524.40" y2="406.00" stroke="#d9d9d9" stroke-width="0.9"/>
<line x1="319.50" y1="406.00" x2="524.40" y2="406.00" stroke="#d2d2d2" stroke-width="0.9"/>
<line x1="319.50" y1="379.40" x2="524.40" y2="379.40" stroke="#d2d2d2" stroke-width="0.9"/>
<line x1="319.50" y1="352.80" x2="524.40" y2="352.80" stroke="#d2d2d2" stroke-width="0.9"/>
<line x1="319.50" y1="326.20" x2="524.40" y2="326.20" stroke="#d2d2d2" stroke-width="0.9"/>
<line x1="319.50" y1="299.60" x2="524.40" y2="299.60" stroke="#d2d2d2" stroke-width="0.9"/>
<polyline points="353.65,322.21 370.73,326.20 387.80,330.72 404.88,350.67 421.95,340.30 439.02,337.37 456.10,336.84 473.17,337.11 490.25,337.37" fill="none" stroke="#ff0000" stroke-width="1.1" stroke-dasharray="2.6,1.8"/>
<polyline points="353.65,358.39 370.73,359.98 387.80,361.31 404.88,370.09 421.95,365.30 439.02,364.24 456.10,363.97 473.17,363.97 490.25,364.24" fill="none" stroke="#0000ff" stroke-width="1.1" stroke-dasharray="1.2,1.2"/>
<line x1="353.65" y1="327.53" x2="353.65" y2="316.89" stroke="#ff0000" stroke-width="1"/>
<circle cx="353.65" cy="322.21" r="1.8" fill="#ff8080" stroke="#ff0000" stroke-width="0.9"/>
<line x1="370.73" y1="330.19" x2="370.73" y2="322.21" stroke="#ff0000" stroke-width="1"/>
<circle cx="370.73" cy="326.20" r="1.8" fill="#ff8080" stroke="#ff0000" stroke-width="0.9"/>
<line x1="387.80" y1="334.71" x2="387.80" y2="326.73" stroke="#ff0000" stroke-width="1"/>
<circle cx="387.80" cy="330.72" r="1.8" fill="#ff8080" stroke="#ff0000" stroke-width="0.9"/>
<line x1="404.88" y1="358.65" x2="404.88" y2="342.69" stroke="#ff0000" stroke-width="1"/>
<circle cx="404.88" cy="350.67" r="1.8" fill="#ff8080" stroke="#ff0000" stroke-width="0.9"/>
<line x1="421.95" y1="343.49" x2="421.95" y2="337.11" stroke="#ff0000" stroke-width="1"/>
<circle cx="421.95" cy="340.30" r="1.8" fill="#ff8080" stroke="#ff0000" stroke-width="0.9"/>
<line x1="439.02" y1="340.56" x2="439.02" y2="334.18" stroke="#ff0000" stroke-width="1"/>
<circle cx="439.02" cy="337.37" r="1.8" fill="#ff8080" stroke="#ff0000" stroke-width="0.9"/>
<line x1="456.10" y1="340.03" x2="456.10" y2="333.65" stroke="#ff0000" stroke-width="1"/>
<circle cx="456.10" cy="336.84" r="1.8" fill="#ff8080" stroke="#ff0000" stroke-width="0.9"/>
<line x1="473.17" y1="339.77" x2="473.17" y2="334.45" stroke="#ff0000" stroke-width="1"/>
<circle cx="473.17" cy="337.11" r="1.8" fill="#ff8080" stroke="#ff0000" stroke-width="0.9"/>
<line x1="490.25" y1="340.56" x2="490.25" y2="334.18" stroke="#ff0000" stroke-width="1"/>
<circle cx="490.25" cy="337.37" r="1.8" fill="#ff8080" stroke="#ff0000" stroke-width="0.9"/>
<circle cx="353.65" cy="358.39" r="1.7" fill="#0000ff"/>
<circle cx="370.73" cy="359.98" r="1.7" fill="#0000ff"/>
<circle cx="387.80" cy="361.31" r="1.7" fill="#0000ff"/>
<line x1="404.88" y1="375.41" x2="404.88" y2="364.77" stroke="#0000ff" stroke-width="1"/>
<circle cx="404.88" cy="370.09" r="1.7" fill="#0000ff"/>
<circle cx="421.95" cy="365.30" r="1.7" fill="#0000ff"/>
<circle cx="439.02" cy="364.24" r="1.7" fill="#0000ff"/>
<circle cx="456.10" cy="363.97" r="1.7" fill="#0000ff"/>
<circle cx="473.17" cy="363.97" r="1.7" fill="#0000ff"/>
<circle cx="490.25" cy="364.24" r="1.7" fill="#0000ff"/>
<path d="M359.38,353.37 A7.0,7.0 0 1 0 359.38,361.40" fill="none" stroke="#0000ff" stroke-width="0.9" stroke-dasharray="2,1.2"/>
<circle cx="490.25" cy="337.37" r="7.4" fill="none" stroke="#ff0000" stroke-width="0.9" stroke-dasharray="2,1.2"/>
<line x1="345.68" y1="356.39" x2="326.50" y2="356.39" stroke="#0000ff" stroke-width="1.3" stroke-dasharray="1,0.8"/>
<polygon points="323.5,356.39 327,354.79 327,357.99" fill="#0000ff"/>
<line x1="498.79" y1="337.37" x2="521.00" y2="337.37" stroke="#ff0000" stroke-width="1.3" stroke-dasharray="1,0.8"/>
<polygon points="524,337.37 520.5,335.77 520.5,338.97" fill="#ff0000"/>
<rect x="319.50" y="299.60" width="204.90" height="106.40" fill="none" stroke="#454545" stroke-width="1.45"/>
<line x1="319.50" y1="406.00" x2="319.50" y2="408.20" stroke="#555" stroke-width="1"/>
<text x="319.5" y="413.4" font-size="6.6" fill="#000" text-anchor="middle" font-weight="bold" font-style="normal" dominant-baseline="central">-90</text>
<line x1="353.65" y1="406.00" x2="353.65" y2="408.20" stroke="#555" stroke-width="1"/>
<text x="353.65" y="413.4" font-size="6.6" fill="#000" text-anchor="middle" font-weight="bold" font-style="normal" dominant-baseline="central">-60</text>
<line x1="387.80" y1="406.00" x2="387.80" y2="408.20" stroke="#555" stroke-width="1"/>
<text x="387.79999999999995" y="413.4" font-size="6.6" fill="#000" text-anchor="middle" font-weight="bold" font-style="normal" dominant-baseline="central">-30</text>
<line x1="421.95" y1="406.00" x2="421.95" y2="408.20" stroke="#555" stroke-width="1"/>
<text x="421.95" y="413.4" font-size="6.6" fill="#000" text-anchor="middle" font-weight="bold" font-style="normal" dominant-baseline="central">0</text>
<line x1="456.10" y1="406.00" x2="456.10" y2="408.20" stroke="#555" stroke-width="1"/>
<text x="456.09999999999997" y="413.4" font-size="6.6" fill="#000" text-anchor="middle" font-weight="bold" font-style="normal" dominant-baseline="central">30</text>
<line x1="490.25" y1="406.00" x2="490.25" y2="408.20" stroke="#555" stroke-width="1"/>
<text x="490.25" y="413.4" font-size="6.6" fill="#000" text-anchor="middle" font-weight="bold" font-style="normal" dominant-baseline="central">60</text>
<line x1="524.40" y1="406.00" x2="524.40" y2="408.20" stroke="#555" stroke-width="1"/>
<text x="524.4" y="413.4" font-size="6.6" fill="#000" text-anchor="middle" font-weight="bold" font-style="normal" dominant-baseline="central">90</text>
<line x1="317.30" y1="406.00" x2="319.50" y2="406.00" stroke="#555" stroke-width="1"/>
<text x="313.3" y="406.0" font-size="6.6" fill="#0000ff" text-anchor="end" font-weight="bold" font-style="normal" dominant-baseline="central">0.6</text>
<line x1="317.30" y1="379.40" x2="319.50" y2="379.40" stroke="#555" stroke-width="1"/>
<text x="313.3" y="379.40000000000003" font-size="6.6" fill="#0000ff" text-anchor="end" font-weight="bold" font-style="normal" dominant-baseline="central">0.7</text>
<line x1="317.30" y1="352.80" x2="319.50" y2="352.80" stroke="#555" stroke-width="1"/>
<text x="313.3" y="352.8" font-size="6.6" fill="#0000ff" text-anchor="end" font-weight="bold" font-style="normal" dominant-baseline="central">0.8</text>
<line x1="317.30" y1="326.20" x2="319.50" y2="326.20" stroke="#555" stroke-width="1"/>
<text x="313.3" y="326.2" font-size="6.6" fill="#0000ff" text-anchor="end" font-weight="bold" font-style="normal" dominant-baseline="central">0.9</text>
<line x1="317.30" y1="299.60" x2="319.50" y2="299.60" stroke="#555" stroke-width="1"/>
<text x="313.3" y="299.6" font-size="6.6" fill="#0000ff" text-anchor="end" font-weight="bold" font-style="normal" dominant-baseline="central">1.0</text>
<line x1="524.40" y1="406.00" x2="526.60" y2="406.00" stroke="#555" stroke-width="1"/>
<text x="529.9" y="406.0" font-size="6.6" fill="#ff0000" text-anchor="start" font-weight="bold" font-style="normal" dominant-baseline="central">1</text>
<line x1="524.40" y1="379.40" x2="526.60" y2="379.40" stroke="#555" stroke-width="1"/>
<text x="529.9" y="379.4" font-size="6.6" fill="#ff0000" text-anchor="start" font-weight="bold" font-style="normal" dominant-baseline="central">2</text>
<line x1="524.40" y1="352.80" x2="526.60" y2="352.80" stroke="#555" stroke-width="1"/>
<text x="529.9" y="352.8" font-size="6.6" fill="#ff0000" text-anchor="start" font-weight="bold" font-style="normal" dominant-baseline="central">3</text>
<line x1="524.40" y1="326.20" x2="526.60" y2="326.20" stroke="#555" stroke-width="1"/>
<text x="529.9" y="326.20000000000005" font-size="6.6" fill="#ff0000" text-anchor="start" font-weight="bold" font-style="normal" dominant-baseline="central">4</text>
<line x1="524.40" y1="299.60" x2="526.60" y2="299.60" stroke="#555" stroke-width="1"/>
<text x="529.9" y="299.6" font-size="6.6" fill="#ff0000" text-anchor="start" font-weight="bold" font-style="normal" dominant-baseline="central">5</text>
<text x="294" y="296" font-size="13" fill="#000" text-anchor="middle" font-weight="bold" font-style="normal" dominant-baseline="central">c</text>
<text x="296" y="348.6" font-size="8.2" font-weight="bold" fill="#0000ff" text-anchor="middle" dominant-baseline="central" transform="rotate(-90 296 348.6)"><tspan font-style="italic">&#945;</tspan><tspan font-size="5.5" dy="2">R</tspan></text>
<text x="540.4" y="350" font-size="8" font-weight="bold" fill="#ff0000" text-anchor="middle" dominant-baseline="central" transform="rotate(-90 540.4 350)"><tspan font-style="italic">&#956;</tspan><tspan font-size="5.5" dy="2">R</tspan><tspan dy="-2"> (cP)</tspan></text>
<text x="424.2" y="424.0" font-size="8" fill="#000" text-anchor="middle" font-weight="bold" dominant-baseline="central"><tspan font-style="italic">Z</tspan><tspan font-style="italic" font-size="5.60" dy="2.40">f</tspan><tspan dy="-2.40"> (&#956;m)</tspan></text>
</svg></body></html>
